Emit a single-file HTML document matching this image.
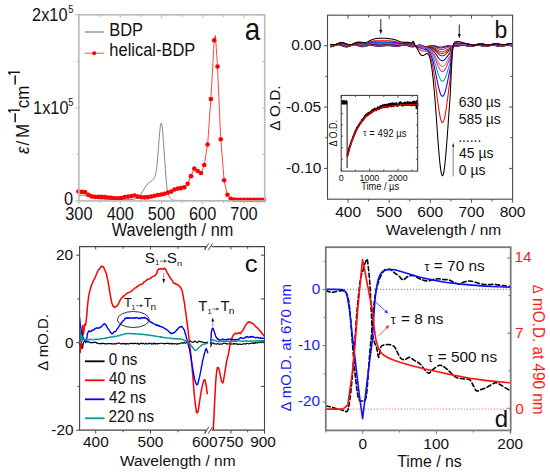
<!DOCTYPE html>
<html><head><meta charset="utf-8"><style>
html,body{margin:0;padding:0;background:#fff;}
svg{display:block;}
text{font-family:"Liberation Sans", sans-serif;}
</style></head><body>
<svg width="550" height="474" viewBox="0 0 550 474">
<rect x="0" y="0" width="550" height="474" fill="#fff"/>
<path d="M78.9 195.5 C79.75 195.47 82.48 195.17 84 195.3 C85.52 195.43 86.17 195.82 88 196.3 C89.83 196.78 92.17 197.72 95 198.2 C97.83 198.68 100.83 198.97 105 199.2 C109.17 199.43 115.5 199.57 120 199.6 C124.5 199.63 129.17 199.67 132 199.4 C134.83 199.13 135.67 198.63 137 198 C138.33 197.37 138.72 197.27 140 195.6 C141.28 193.93 143.28 190.12 144.7 188 C146.12 185.88 147.23 184.17 148.5 182.9 C149.77 181.63 151.18 181.6 152.3 180.4 C153.42 179.2 154.42 178.27 155.2 175.7 C155.98 173.13 156.53 168.8 157 165 C157.47 161.2 157.52 158.7 158 152.9 C158.48 147.1 159.37 135.18 159.9 130.2 C160.43 125.22 160.75 123 161.2 123 C161.65 123 162.03 124.27 162.6 130.2 C163.17 136.13 163.95 149.77 164.6 158.6 C165.25 167.43 165.87 177.2 166.5 183.2 C167.13 189.2 167.6 191.9 168.4 194.6 C169.2 197.3 170.37 198.47 171.3 199.4 C172.23 200.33 172.88 200.03 174 200.2 C175.12 200.37 175.33 200.35 178 200.4 C180.67 200.45 184.67 200.48 190 200.5 C195.33 200.52 203.33 200.5 210 200.5 C216.67 200.5 223.33 200.5 230 200.5 C236.67 200.5 244.22 200.5 250 200.5 C255.78 200.5 262.25 200.5 264.7 200.5" fill="none" stroke="#777" stroke-width="0.9" stroke-linejoin="round" stroke-linecap="round"/>
<path d="M78.4 191.5 L82.3 192 L85.6 192.2 L88.9 195.3 L92.1 196.6 L95.4 196.9 L98.7 196.9 L102 196.9 L105.2 197.1 L108.5 197.5 L111.8 197.7 L115.1 198.3 L118.3 198.3 L121.6 198 L124.9 196.9 L128.1 196.6 L131.4 196.1 L134.4 195.4 L137.7 196.6 L141 197.3 L144.3 197.4 L147.6 197.2 L151.1 196.5 L154.4 195.8 L157.6 195.1 L160.9 194.5 L164.2 193.8 L167.5 192.7 L171.3 191.6 L174.5 189.5 L177.8 188.6 L181.1 188.1 L184.7 187.3 L187.6 184 L190.9 176.4 L194.2 168.5 L197.7 171.1 L201.1 173.1 L204.3 164.9 L207.7 143.7 L211 97.4 L214.2 40.2 L215.4 35.4 L217.4 64.2 L220.6 136.5 L224.2 181.2 L227.8 196.2 L231.1 199 L234.4 199.7 L240 199.9 L264.5 199.9" fill="none" stroke="#ff3030" stroke-width="0.9" stroke-linejoin="round" stroke-linecap="round"/>
<circle cx="78.4" cy="191.5" r="2.3" fill="#ff0000"/>
<circle cx="81.71" cy="191.92" r="2.3" fill="#ff0000"/>
<circle cx="85.02" cy="192.17" r="2.3" fill="#ff0000"/>
<circle cx="88.34" cy="194.77" r="2.3" fill="#ff0000"/>
<circle cx="91.65" cy="196.42" r="2.3" fill="#ff0000"/>
<circle cx="94.96" cy="196.86" r="2.3" fill="#ff0000"/>
<circle cx="98.27" cy="196.9" r="2.3" fill="#ff0000"/>
<circle cx="101.58" cy="196.9" r="2.3" fill="#ff0000"/>
<circle cx="104.9" cy="197.08" r="2.3" fill="#ff0000"/>
<circle cx="108.21" cy="197.46" r="2.3" fill="#ff0000"/>
<circle cx="111.52" cy="197.68" r="2.3" fill="#ff0000"/>
<circle cx="114.83" cy="198.25" r="2.3" fill="#ff0000"/>
<circle cx="118.14" cy="198.3" r="2.3" fill="#ff0000"/>
<circle cx="121.46" cy="198.01" r="2.3" fill="#ff0000"/>
<circle cx="124.77" cy="196.94" r="2.3" fill="#ff0000"/>
<circle cx="128.08" cy="196.6" r="2.3" fill="#ff0000"/>
<circle cx="131.39" cy="196.1" r="2.3" fill="#ff0000"/>
<circle cx="134.7" cy="195.51" r="2.3" fill="#ff0000"/>
<circle cx="138.02" cy="196.67" r="2.3" fill="#ff0000"/>
<circle cx="141.33" cy="197.31" r="2.3" fill="#ff0000"/>
<circle cx="144.64" cy="197.38" r="2.3" fill="#ff0000"/>
<circle cx="147.95" cy="197.13" r="2.3" fill="#ff0000"/>
<circle cx="151.26" cy="196.47" r="2.3" fill="#ff0000"/>
<circle cx="154.58" cy="195.76" r="2.3" fill="#ff0000"/>
<circle cx="157.89" cy="195.05" r="2.3" fill="#ff0000"/>
<circle cx="161.2" cy="194.44" r="2.3" fill="#ff0000"/>
<circle cx="164.51" cy="193.7" r="2.3" fill="#ff0000"/>
<circle cx="167.82" cy="192.61" r="2.3" fill="#ff0000"/>
<circle cx="171.14" cy="191.65" r="2.3" fill="#ff0000"/>
<circle cx="174.45" cy="189.53" r="2.3" fill="#ff0000"/>
<circle cx="177.76" cy="188.61" r="2.3" fill="#ff0000"/>
<circle cx="181.07" cy="188.1" r="2.3" fill="#ff0000"/>
<circle cx="184.38" cy="187.37" r="2.3" fill="#ff0000"/>
<circle cx="187.7" cy="183.78" r="2.3" fill="#ff0000"/>
<circle cx="191.01" cy="176.14" r="2.3" fill="#ff0000"/>
<circle cx="194.32" cy="168.59" r="2.3" fill="#ff0000"/>
<circle cx="197.63" cy="171.05" r="2.3" fill="#ff0000"/>
<circle cx="200.94" cy="173.01" r="2.3" fill="#ff0000"/>
<circle cx="204.26" cy="165.01" r="2.3" fill="#ff0000"/>
<circle cx="207.57" cy="144.52" r="2.3" fill="#ff0000"/>
<circle cx="210.88" cy="99.08" r="2.3" fill="#ff0000"/>
<circle cx="214.19" cy="40.34" r="2.3" fill="#ff0000"/>
<circle cx="217.5" cy="66.55" r="2.3" fill="#ff0000"/>
<circle cx="220.82" cy="139.18" r="2.3" fill="#ff0000"/>
<circle cx="224.13" cy="180.31" r="2.3" fill="#ff0000"/>
<circle cx="227.44" cy="194.7" r="2.3" fill="#ff0000"/>
<circle cx="230.75" cy="198.7" r="2.3" fill="#ff0000"/>
<circle cx="234.06" cy="199.63" r="2.3" fill="#ff0000"/>
<circle cx="237.38" cy="199.81" r="2.3" fill="#ff0000"/>
<circle cx="240.69" cy="199.9" r="2.3" fill="#ff0000"/>
<circle cx="244" cy="199.9" r="2.3" fill="#ff0000"/>
<circle cx="247.31" cy="199.9" r="2.3" fill="#ff0000"/>
<circle cx="250.62" cy="199.9" r="2.3" fill="#ff0000"/>
<circle cx="253.94" cy="199.9" r="2.3" fill="#ff0000"/>
<circle cx="257.25" cy="199.9" r="2.3" fill="#ff0000"/>
<circle cx="260.56" cy="199.9" r="2.3" fill="#ff0000"/>
<circle cx="263.87" cy="199.9" r="2.3" fill="#ff0000"/>
<rect x="78.9" y="14.8" width="185.8" height="186.1" fill="none" stroke="#bababa" stroke-width="1.6"/>
<line x1="78.9" y1="200.9" x2="78.9" y2="204.1" stroke="#bababa" stroke-width="1"/>
<line x1="78.9" y1="14.8" x2="78.9" y2="18" stroke="#bababa" stroke-width="1"/>
<line x1="99.54" y1="200.9" x2="99.54" y2="203.1" stroke="#bababa" stroke-width="1"/>
<line x1="99.54" y1="14.8" x2="99.54" y2="17" stroke="#bababa" stroke-width="1"/>
<line x1="120.19" y1="200.9" x2="120.19" y2="204.1" stroke="#bababa" stroke-width="1"/>
<line x1="120.19" y1="14.8" x2="120.19" y2="18" stroke="#bababa" stroke-width="1"/>
<line x1="140.83" y1="200.9" x2="140.83" y2="203.1" stroke="#bababa" stroke-width="1"/>
<line x1="140.83" y1="14.8" x2="140.83" y2="17" stroke="#bababa" stroke-width="1"/>
<line x1="161.48" y1="200.9" x2="161.48" y2="204.1" stroke="#bababa" stroke-width="1"/>
<line x1="161.48" y1="14.8" x2="161.48" y2="18" stroke="#bababa" stroke-width="1"/>
<line x1="182.12" y1="200.9" x2="182.12" y2="203.1" stroke="#bababa" stroke-width="1"/>
<line x1="182.12" y1="14.8" x2="182.12" y2="17" stroke="#bababa" stroke-width="1"/>
<line x1="202.77" y1="200.9" x2="202.77" y2="204.1" stroke="#bababa" stroke-width="1"/>
<line x1="202.77" y1="14.8" x2="202.77" y2="18" stroke="#bababa" stroke-width="1"/>
<line x1="223.41" y1="200.9" x2="223.41" y2="203.1" stroke="#bababa" stroke-width="1"/>
<line x1="223.41" y1="14.8" x2="223.41" y2="17" stroke="#bababa" stroke-width="1"/>
<line x1="244.06" y1="200.9" x2="244.06" y2="204.1" stroke="#bababa" stroke-width="1"/>
<line x1="244.06" y1="14.8" x2="244.06" y2="18" stroke="#bababa" stroke-width="1"/>
<line x1="264.7" y1="200.9" x2="264.7" y2="203.1" stroke="#bababa" stroke-width="1"/>
<line x1="264.7" y1="14.8" x2="264.7" y2="17" stroke="#bababa" stroke-width="1"/>
<line x1="75.4" y1="200.9" x2="78.9" y2="200.9" stroke="#bababa" stroke-width="1"/>
<line x1="264.7" y1="200.9" x2="262.2" y2="200.9" stroke="#bababa" stroke-width="1"/>
<line x1="76.7" y1="154.4" x2="78.9" y2="154.4" stroke="#bababa" stroke-width="1"/>
<line x1="264.7" y1="154.4" x2="262.2" y2="154.4" stroke="#bababa" stroke-width="1"/>
<line x1="75.4" y1="107.9" x2="78.9" y2="107.9" stroke="#bababa" stroke-width="1"/>
<line x1="264.7" y1="107.9" x2="262.2" y2="107.9" stroke="#bababa" stroke-width="1"/>
<line x1="76.7" y1="61.4" x2="78.9" y2="61.4" stroke="#bababa" stroke-width="1"/>
<line x1="264.7" y1="61.4" x2="262.2" y2="61.4" stroke="#bababa" stroke-width="1"/>
<line x1="75.4" y1="14.9" x2="78.9" y2="14.9" stroke="#bababa" stroke-width="1"/>
<line x1="264.7" y1="14.9" x2="262.2" y2="14.9" stroke="#bababa" stroke-width="1"/>
<text transform="translate(65.27 219.9) scale(1 1.12)" font-size="16.35" fill="#111">300</text>
<text transform="translate(106.68 219.9) scale(1 1.12)" font-size="16.35" fill="#111">400</text>
<text transform="translate(147.83 219.9) scale(1 1.12)" font-size="16.35" fill="#111">500</text>
<text transform="translate(189.03 219.9) scale(1 1.12)" font-size="16.35" fill="#111">600</text>
<text transform="translate(230.32 219.9) scale(1 1.12)" font-size="16.35" fill="#111">700</text>
<text transform="translate(63.96 205.1) scale(1 1.12)" font-size="16.35" fill="#111">0</text>
<text transform="translate(33.05 114.3) scale(1 1.12)" font-size="16.35" fill="#111">1x10</text>
<text transform="translate(68.23 105.6) scale(1 1.12)" font-size="9.2" fill="#111">5</text>
<text transform="translate(32.08 21.1) scale(1 1.12)" font-size="16.35" fill="#111">2x10</text>
<text transform="translate(68.23 12.9) scale(1 1.12)" font-size="9.2" fill="#111">5</text>
<text transform="translate(111.63 236.3) scale(1 1.12)" font-size="16.3" fill="#111">Wavelength / nm</text>
<line x1="84.8" y1="32" x2="104" y2="32" stroke="#888" stroke-width="1.3"/>
<text transform="translate(109.15 35.7) scale(1 1.12)" font-size="16.5" fill="#111">BDP</text>
<line x1="84.8" y1="53.2" x2="104" y2="53.2" stroke="#ff4040" stroke-width="0.9"/>
<circle cx="94.2" cy="53.2" r="2" fill="#ff0000"/>
<text transform="translate(109.36 56) scale(1 1.12)" font-size="16.45" fill="#111">helical-BDP</text>
<text transform="translate(244.82 39.6) scale(1 1.11)" font-size="27.8" fill="#111">a</text>
<g transform="translate(28.9 153.6) rotate(-90) scale(1 1.1)" fill="#111"><text x="-0.5" y="0" font-size="17" font-style="italic" font-family="Liberation Serif, serif">&#949;</text><text x="8.0" y="0" font-size="17">/</text><text x="15.5" y="0" font-size="17">M</text><text x="45.3" y="0" font-size="17">cm</text><line x1="31.3" y1="-12.5" x2="40.3" y2="-12.5" stroke="#111" stroke-width="1.35"/><line x1="43.4" y1="-8.2" x2="43.4" y2="-18.9" stroke="#111" stroke-width="1.45"/><line x1="43.1" y1="-18.6" x2="41.2" y2="-16.6" stroke="#111" stroke-width="1.1"/><line x1="69.1" y1="-12.5" x2="78.1" y2="-12.5" stroke="#111" stroke-width="1.35"/><line x1="81.3" y1="-8.2" x2="81.3" y2="-18.9" stroke="#111" stroke-width="1.45"/><line x1="81" y1="-18.6" x2="79.1" y2="-16.6" stroke="#111" stroke-width="1.1"/></g>
<path d="M330.8 46.92 L331.3 46.82 L331.8 46.69 L332.3 46.54 L332.8 46.37 L333.3 46.18 L333.8 45.98 L334.3 45.78 L334.8 45.59 L335.3 45.41 L335.8 45.25 L336.3 45.11 L336.8 45.01 L337.3 44.94 L337.8 44.9 L338.3 44.91 L338.8 44.95 L339.3 45.03 L339.8 45.14 L340.3 45.28 L340.8 45.45 L341.3 45.63 L341.8 45.82 L342.3 46.02 L342.8 46.22 L343.3 46.4 L343.8 46.57 L344.3 46.72 L344.8 46.84 L345.3 46.92 L345.8 46.98 L346.3 46.99 L346.8 46.96 L347.3 46.9 L347.8 46.81 L348.3 46.68 L348.8 46.53 L349.3 46.36 L349.8 46.17 L350.3 45.98 L350.8 45.78 L351.3 45.6 L351.8 45.42 L352.3 45.27 L352.8 45.14 L353.3 45.05 L353.8 44.98 L354.3 44.96 L354.8 44.97 L355.3 45.01 L355.8 45.09 L356.3 45.2 L356.8 45.33 L357.3 45.49 L357.8 45.66 L358.3 45.83 L358.8 46.01 L359.3 46.18 L359.8 46.34 L360.3 46.49 L360.8 46.61 L361.3 46.7 L361.8 46.76 L362.3 46.79 L362.8 46.79 L363.3 46.75 L363.8 46.69 L364.3 46.61 L364.8 46.5 L365.3 46.37 L365.8 46.24 L366.3 46.1 L366.8 45.96 L367.3 45.83 L367.8 45.7 L368.3 45.6 L368.8 45.51 L369.3 45.44 L369.8 45.4 L370.3 45.38 L370.8 45.38 L371.3 45.4 L371.8 45.44 L372.3 45.5 L372.8 45.57 L373.3 45.64 L373.8 45.72 L374.3 45.81 L374.8 45.88 L375.3 45.96 L375.8 46.02 L376.3 46.08 L376.8 46.12 L377.3 46.15 L377.8 46.17 L378.3 46.18 L378.8 46.18 L379.3 46.17 L379.8 46.15 L380.3 46.12 L380.8 46.1 L381.3 46.06 L381.8 46.03 L382.3 46 L382.8 45.96 L383.3 45.93 L383.8 45.9 L384.3 45.87 L384.8 45.85 L385.3 45.82 L385.8 45.8 L386.3 45.78 L386.8 45.77 L387.3 45.76 L387.8 45.75 L388.3 45.75 L388.8 45.76 L389.3 45.77 L389.8 45.79 L390.3 45.82 L390.8 45.86 L391.3 45.9 L391.8 45.95 L392.3 46.01 L392.8 46.07 L393.3 46.13 L393.8 46.19 L394.3 46.24 L394.8 46.29 L395.3 46.33 L395.8 46.35 L396.3 46.36 L396.8 46.36 L397.3 46.33 L397.8 46.29 L398.3 46.23 L398.8 46.15 L399.3 46.06 L399.8 45.95 L400.3 45.84 L400.8 45.72 L401.3 45.61 L401.8 45.5 L402.3 45.4 L402.8 45.31 L403.3 45.25 L403.8 45.21 L404.3 45.2 L404.8 45.21 L405.3 45.26 L405.8 45.33 L406.3 45.43 L406.8 45.55 L407.3 45.69 L407.8 45.84 L408.3 46.01 L408.8 46.17 L409.3 46.34 L409.8 46.49 L410.3 46.62 L410.8 46.74 L411.3 46.82 L411.8 46.88 L412.3 46.89 L412.8 46.88 L413.3 46.83 L413.8 46.75 L414.3 46.64 L414.8 46.51 L415.3 46.35 L415.8 46.17 L416.3 45.99 L416.8 45.8 L417.3 45.62 L417.8 45.45 L418.3 45.3 L418.8 45.17 L419.3 45.07 L419.8 45 L420.3 45.7 L420.8 45.81 L421.3 45.94 L421.8 46.07 L422.3 46.19 L422.8 46.31 L423.3 46.41 L423.8 46.5 L424.3 46.56 L424.8 46.6 L425.3 46.62 L425.8 46.61 L426.3 46.57 L426.8 46.51 L427.3 46.43 L427.8 46.34 L428.3 46.23 L428.8 46.12 L429.3 46 L429.8 45.89 L430.3 45.79 L430.8 45.7 L431.3 45.63 L431.8 45.58 L432.3 45.56 L432.8 45.57 L433.3 45.6 L433.8 45.66 L434.3 45.74 L434.8 45.85 L435.3 45.97 L435.8 46.11 L436.3 46.25 L436.8 46.4 L437.3 46.54 L437.8 46.68 L438.3 46.8 L438.8 46.9 L439.3 46.98 L439.8 47.03 L440.3 47.05 L440.8 47.05 L441.3 47.02 L441.8 46.96 L442.3 46.88 L442.8 46.78 L443.3 46.66 L443.8 46.53 L444.3 46.4 L444.8 46.27 L445.3 46.14 L445.8 46.02 L446.3 45.92 L446.8 45.84 L447.3 45.78 L447.8 45.75 L448.3 45.74 L448.8 45.76 L449.3 45.8 L449.8 45.86 L450.3 45.93 L450.8 46 L451.3 46.06 L451.8 46.14 L452.3 46.21 L452.8 46.29 L453.3 46.37 L453.8 46.44 L454.3 46.5 L454.8 46.53 L455.3 46.54 L455.8 46.53 L456.3 46.49 L456.8 46.43 L457.3 46.34 L457.8 46.24 L458.3 46.13 L458.8 46.01 L459.3 45.88 L459.8 45.76 L460.3 45.64 L460.8 45.54 L461.3 45.46 L461.8 45.4 L462.3 45.36 L462.8 45.35 L463.3 45.36 L463.8 45.4 L464.3 45.46 L464.8 45.55 L465.3 45.65 L465.8 45.76 L466.3 45.89 L466.8 46.01 L467.3 46.14 L467.8 46.25 L468.3 46.35 L468.8 46.44 L469.3 46.5 L469.8 46.54 L470.3 46.55 L470.8 46.54 L471.3 46.5 L471.8 46.44 L472.3 46.36 L472.8 46.26 L473.3 46.14 L473.8 46.02 L474.3 45.89 L474.8 45.77 L475.3 45.66 L475.8 45.55 L476.3 45.47 L476.8 45.41 L477.3 45.37 L477.8 45.35 L478.3 45.37 L478.8 45.4 L479.3 45.47 L479.8 45.55 L480.3 45.65 L480.8 45.77 L481.3 45.89 L481.8 46.01 L482.3 46.14 L482.8 46.25 L483.3 46.35 L483.8 46.44 L484.3 46.5 L484.8 46.54 L485.3 46.55 L485.8 46.54 L486.3 46.5 L486.8 46.44 L487.3 46.36 L487.8 46.26 L488.3 46.14 L488.8 46.02 L489.3 45.89 L489.8 45.77 L490.3 45.66 L490.8 45.55 L491.3 45.47 L491.8 45.41 L492.3 45.37 L492.8 45.35 L493.3 45.37 L493.8 45.4 L494.3 45.47 L494.8 45.55 L495.3 45.65 L495.8 45.76 L496.3 45.89 L496.8 46.01 L497.3 46.14 L497.8 46.25 L498.3 46.35 L498.8 46.44 L499.3 46.5 L499.8 46.54 L500.3 46.55 L500.8 46.54 L501.3 46.5 L501.8 46.44 L502.3 46.36 L502.8 46.25 L503.3 46.14 L503.8 46.02 L504.3 45.89 L504.8 45.77 L505.3 45.65 L505.8 45.55 L506.3 45.47 L506.8 45.4 L507.3 45.37 L507.8 45.35 L508.3 45.36 L508.8 45.4 L509.3 45.46 L509.8 45.55 L510.3 45.65 L510.8 45.76 L511.3 45.89 L511.8 46.01 L512.3 46.13" fill="none" stroke="#202020" stroke-width="1.05" stroke-linejoin="round" stroke-linecap="round"/>
<path d="M330.8 46.77 L331.3 46.69 L331.8 46.59 L332.3 46.45 L332.8 46.29 L333.3 46.1 L333.8 45.91 L334.3 45.71 L334.8 45.51 L335.3 45.33 L335.8 45.15 L336.3 45 L336.8 44.88 L337.3 44.79 L337.8 44.73 L338.3 44.71 L338.8 44.73 L339.3 44.78 L339.8 44.87 L340.3 45 L340.8 45.15 L341.3 45.32 L341.8 45.51 L342.3 45.7 L342.8 45.9 L343.3 46.1 L343.8 46.28 L344.3 46.44 L344.8 46.58 L345.3 46.68 L345.8 46.76 L346.3 46.79 L346.8 46.79 L347.3 46.75 L347.8 46.68 L348.3 46.57 L348.8 46.44 L349.3 46.27 L349.8 46.1 L350.3 45.91 L350.8 45.71 L351.3 45.52 L351.8 45.34 L352.3 45.17 L352.8 45.03 L353.3 44.91 L353.8 44.83 L354.3 44.78 L354.8 44.76 L355.3 44.79 L355.8 44.84 L356.3 44.93 L356.8 45.05 L357.3 45.19 L357.8 45.35 L358.3 45.53 L358.8 45.7 L359.3 45.88 L359.8 46.04 L360.3 46.2 L360.8 46.33 L361.3 46.44 L361.8 46.52 L362.3 46.56 L362.8 46.58 L363.3 46.57 L363.8 46.52 L364.3 46.45 L364.8 46.35 L365.3 46.24 L365.8 46.11 L366.3 45.97 L366.8 45.83 L367.3 45.7 L367.8 45.57 L368.3 45.45 L368.8 45.35 L369.3 45.28 L369.8 45.22 L370.3 45.18 L370.8 45.17 L371.3 45.18 L371.8 45.2 L372.3 45.25 L372.8 45.31 L373.3 45.38 L373.8 45.45 L374.3 45.53 L374.8 45.61 L375.3 45.68 L375.8 45.75 L376.3 45.81 L376.8 45.85 L377.3 45.89 L377.8 45.92 L378.3 45.93 L378.8 45.93 L379.3 45.93 L379.8 45.92 L380.3 45.9 L380.8 45.87 L381.3 45.84 L381.8 45.81 L382.3 45.78 L382.8 45.74 L383.3 45.71 L383.8 45.68 L384.3 45.65 L384.8 45.62 L385.3 45.6 L385.8 45.58 L386.3 45.56 L386.8 45.54 L387.3 45.53 L387.8 45.52 L388.3 45.51 L388.8 45.52 L389.3 45.53 L389.8 45.54 L390.3 45.57 L390.8 45.6 L391.3 45.64 L391.8 45.69 L392.3 45.75 L392.8 45.8 L393.3 45.87 L393.8 45.93 L394.3 45.99 L394.8 46.05 L395.3 46.09 L395.8 46.13 L396.3 46.15 L396.8 46.15 L397.3 46.14 L397.8 46.11 L398.3 46.06 L398.8 45.99 L399.3 45.91 L399.8 45.81 L400.3 45.7 L400.8 45.58 L401.3 45.47 L401.8 45.35 L402.3 45.24 L402.8 45.15 L403.3 45.07 L403.8 45.02 L404.3 44.99 L404.8 44.99 L405.3 45.02 L405.8 45.07 L406.3 45.16 L406.8 45.27 L407.3 45.4 L407.8 45.55 L408.3 45.71 L408.8 45.88 L409.3 46.04 L409.8 46.2 L410.3 46.35 L410.8 46.48 L411.3 46.58 L411.8 46.65 L412.3 46.68 L412.8 46.68 L413.3 46.65 L413.8 46.6 L414.3 46.52 L414.8 46.41 L415.3 46.27 L415.8 46.11 L416.3 45.94 L416.8 45.76 L417.3 45.58 L417.8 45.41 L418.3 45.26 L418.8 45.13 L419.3 45.02 L419.8 44.94 L420.3 45.54 L420.8 45.66 L421.3 45.79 L421.8 45.93 L422.3 46.06 L422.8 46.18 L423.3 46.29 L423.8 46.39 L424.3 46.47 L424.8 46.53 L425.3 46.56 L425.8 46.57 L426.3 46.56 L426.8 46.52 L427.3 46.46 L427.8 46.39 L428.3 46.3 L428.8 46.21 L429.3 46.11 L429.8 46.02 L430.3 45.94 L430.8 45.88 L431.3 45.83 L431.8 45.81 L432.3 45.81 L432.8 45.84 L433.3 45.9 L433.8 45.99 L434.3 46.1 L434.8 46.24 L435.3 46.4 L435.8 46.58 L436.3 46.77 L436.8 46.96 L437.3 47.15 L437.8 47.33 L438.3 47.5 L438.8 47.65 L439.3 47.77 L439.8 47.87 L440.3 47.93 L440.8 47.96 L441.3 47.96 L441.8 47.92 L442.3 47.86 L442.8 47.76 L443.3 47.65 L443.8 47.51 L444.3 47.36 L444.8 47.2 L445.3 47.04 L445.8 46.89 L446.3 46.75 L446.8 46.61 L447.3 46.5 L447.8 46.41 L448.3 46.34 L448.8 46.3 L449.3 46.28 L449.8 46.28 L450.3 46.28 L450.8 46.24 L451.3 46.18 L451.8 46.14 L452.3 46.12 L452.8 46.13 L453.3 46.17 L453.8 46.22 L454.3 46.27 L454.8 46.31 L455.3 46.33 L455.8 46.33 L456.3 46.3 L456.8 46.25 L457.3 46.18 L457.8 46.09 L458.3 45.98 L458.8 45.86 L459.3 45.74 L459.8 45.62 L460.3 45.5 L460.8 45.39 L461.3 45.3 L461.8 45.23 L462.3 45.18 L462.8 45.15 L463.3 45.15 L463.8 45.18 L464.3 45.23 L464.8 45.3 L465.3 45.4 L465.8 45.51 L466.3 45.63 L466.8 45.75 L467.3 45.88 L467.8 46 L468.3 46.11 L468.8 46.21 L469.3 46.28 L469.8 46.34 L470.3 46.36 L470.8 46.37 L471.3 46.34 L471.8 46.3 L472.3 46.22 L472.8 46.13 L473.3 46.02 L473.8 45.91 L474.3 45.78 L474.8 45.66 L475.3 45.54 L475.8 45.43 L476.3 45.33 L476.8 45.26 L477.3 45.2 L477.8 45.17 L478.3 45.17 L478.8 45.2 L479.3 45.24 L479.8 45.32 L480.3 45.41 L480.8 45.51 L481.3 45.63 L481.8 45.76 L482.3 45.88 L482.8 46 L483.3 46.11 L483.8 46.21 L484.3 46.28 L484.8 46.34 L485.3 46.36 L485.8 46.37 L486.3 46.34 L486.8 46.29 L487.3 46.22 L487.8 46.13 L488.3 46.02 L488.8 45.91 L489.3 45.78 L489.8 45.66 L490.3 45.54 L490.8 45.43 L491.3 45.33 L491.8 45.25 L492.3 45.2 L492.8 45.17 L493.3 45.17 L493.8 45.19 L494.3 45.24 L494.8 45.31 L495.3 45.4 L495.8 45.51 L496.3 45.63 L496.8 45.75 L497.3 45.88 L497.8 46 L498.3 46.11 L498.8 46.2 L499.3 46.28 L499.8 46.33 L500.3 46.36 L500.8 46.36 L501.3 46.34 L501.8 46.29 L502.3 46.22 L502.8 46.13 L503.3 46.02 L503.8 45.9 L504.3 45.78 L504.8 45.65 L505.3 45.53 L505.8 45.42 L506.3 45.33 L506.8 45.25 L507.3 45.2 L507.8 45.17 L508.3 45.17 L508.8 45.19 L509.3 45.24 L509.8 45.31 L510.3 45.4 L510.8 45.51 L511.3 45.63 L511.8 45.75 L512.3 45.88" fill="none" stroke="#6000a0" stroke-width="1.05" stroke-linejoin="round" stroke-linecap="round"/>
<path d="M330.8 46.6 L331.3 46.55 L331.8 46.47 L332.3 46.35 L332.8 46.2 L333.3 46.03 L333.8 45.84 L334.3 45.65 L334.8 45.45 L335.3 45.25 L335.8 45.07 L336.3 44.9 L336.8 44.76 L337.3 44.65 L337.8 44.57 L338.3 44.53 L338.8 44.52 L339.3 44.55 L339.8 44.62 L340.3 44.73 L340.8 44.86 L341.3 45.02 L341.8 45.2 L342.3 45.39 L342.8 45.59 L343.3 45.78 L343.8 45.97 L344.3 46.15 L344.8 46.3 L345.3 46.43 L345.8 46.52 L346.3 46.58 L346.8 46.6 L347.3 46.59 L347.8 46.54 L348.3 46.45 L348.8 46.33 L349.3 46.18 L349.8 46.02 L350.3 45.83 L350.8 45.64 L351.3 45.45 L351.8 45.26 L352.3 45.08 L352.8 44.92 L353.3 44.79 L353.8 44.68 L354.3 44.61 L354.8 44.58 L355.3 44.58 L355.8 44.61 L356.3 44.68 L356.8 44.78 L357.3 44.91 L357.8 45.05 L358.3 45.22 L358.8 45.39 L359.3 45.57 L359.8 45.74 L360.3 45.9 L360.8 46.04 L361.3 46.16 L361.8 46.25 L362.3 46.32 L362.8 46.36 L363.3 46.36 L363.8 46.33 L364.3 46.27 L364.8 46.19 L365.3 46.09 L365.8 45.97 L366.3 45.84 L366.8 45.7 L367.3 45.56 L367.8 45.42 L368.3 45.3 L368.8 45.19 L369.3 45.1 L369.8 45.03 L370.3 44.98 L370.8 44.95 L371.3 44.94 L371.8 44.96 L372.3 44.99 L372.8 45.04 L373.3 45.1 L373.8 45.16 L374.3 45.24 L374.8 45.31 L375.3 45.38 L375.8 45.45 L376.3 45.51 L376.8 45.56 L377.3 45.6 L377.8 45.63 L378.3 45.65 L378.8 45.66 L379.3 45.66 L379.8 45.65 L380.3 45.63 L380.8 45.61 L381.3 45.59 L381.8 45.56 L382.3 45.53 L382.8 45.5 L383.3 45.46 L383.8 45.43 L384.3 45.4 L384.8 45.38 L385.3 45.35 L385.8 45.33 L386.3 45.3 L386.8 45.29 L387.3 45.27 L387.8 45.26 L388.3 45.25 L388.8 45.25 L389.3 45.26 L389.8 45.27 L390.3 45.29 L390.8 45.32 L391.3 45.36 L391.8 45.41 L392.3 45.46 L392.8 45.52 L393.3 45.59 L393.8 45.65 L394.3 45.72 L394.8 45.78 L395.3 45.83 L395.8 45.88 L396.3 45.91 L396.8 45.93 L397.3 45.93 L397.8 45.91 L398.3 45.87 L398.8 45.81 L399.3 45.74 L399.8 45.65 L400.3 45.55 L400.8 45.43 L401.3 45.32 L401.8 45.2 L402.3 45.09 L402.8 44.99 L403.3 44.9 L403.8 44.83 L404.3 44.79 L404.8 44.77 L405.3 44.78 L405.8 44.82 L406.3 44.89 L406.8 44.99 L407.3 45.11 L407.8 45.25 L408.3 45.41 L408.8 45.57 L409.3 45.74 L409.8 45.91 L410.3 46.07 L410.8 46.21 L411.3 46.33 L411.8 46.41 L412.3 46.45 L412.8 46.46 L413.3 46.44 L413.8 46.42 L414.3 46.38 L414.8 46.31 L415.3 46.2 L415.8 46.06 L416.3 45.9 L416.8 45.74 L417.3 45.57 L417.8 45.41 L418.3 45.26 L418.8 45.13 L419.3 45.03 L419.8 44.95 L420.3 45.46 L420.8 45.58 L421.3 45.72 L421.8 45.85 L422.3 45.99 L422.8 46.12 L423.3 46.25 L423.8 46.36 L424.3 46.45 L424.8 46.53 L425.3 46.58 L425.8 46.61 L426.3 46.62 L426.8 46.6 L427.3 46.57 L427.8 46.53 L428.3 46.48 L428.8 46.42 L429.3 46.36 L429.8 46.3 L430.3 46.26 L430.8 46.24 L431.3 46.23 L431.8 46.25 L432.3 46.3 L432.8 46.38 L433.3 46.5 L433.8 46.64 L434.3 46.81 L434.8 47.01 L435.3 47.24 L435.8 47.48 L436.3 47.74 L436.8 48 L437.3 48.26 L437.8 48.51 L438.3 48.75 L438.8 48.97 L439.3 49.15 L439.8 49.31 L440.3 49.43 L440.8 49.5 L441.3 49.54 L441.8 49.53 L442.3 49.49 L442.8 49.4 L443.3 49.28 L443.8 49.13 L444.3 48.96 L444.8 48.76 L445.3 48.56 L445.8 48.35 L446.3 48.14 L446.8 47.94 L447.3 47.75 L447.8 47.57 L448.3 47.42 L448.8 47.29 L449.3 47.18 L449.8 47.09 L450.3 46.98 L450.8 46.77 L451.3 46.52 L451.8 46.29 L452.3 46.12 L452.8 46.02 L453.3 45.99 L453.8 46 L454.3 46.04 L454.8 46.08 L455.3 46.1 L455.8 46.11 L456.3 46.1 L456.8 46.06 L457.3 46 L457.8 45.92 L458.3 45.82 L458.8 45.71 L459.3 45.59 L459.8 45.46 L460.3 45.34 L460.8 45.23 L461.3 45.14 L461.8 45.06 L462.3 45 L462.8 44.96 L463.3 44.95 L463.8 44.96 L464.3 45.01 L464.8 45.07 L465.3 45.16 L465.8 45.26 L466.3 45.38 L466.8 45.5 L467.3 45.63 L467.8 45.75 L468.3 45.87 L468.8 45.97 L469.3 46.06 L469.8 46.13 L470.3 46.17 L470.8 46.19 L471.3 46.18 L471.8 46.15 L472.3 46.09 L472.8 46.01 L473.3 45.91 L473.8 45.8 L474.3 45.67 L474.8 45.55 L475.3 45.43 L475.8 45.31 L476.3 45.2 L476.8 45.12 L477.3 45.05 L477.8 45.01 L478.3 44.99 L478.8 45 L479.3 45.03 L479.8 45.09 L480.3 45.17 L480.8 45.27 L481.3 45.38 L481.8 45.51 L482.3 45.63 L482.8 45.75 L483.3 45.87 L483.8 45.98 L484.3 46.06 L484.8 46.13 L485.3 46.17 L485.8 46.19 L486.3 46.18 L486.8 46.15 L487.3 46.09 L487.8 46.01 L488.3 45.91 L488.8 45.79 L489.3 45.67 L489.8 45.55 L490.3 45.42 L490.8 45.31 L491.3 45.2 L491.8 45.11 L492.3 45.05 L492.8 45 L493.3 44.99 L493.8 44.99 L494.3 45.03 L494.8 45.09 L495.3 45.17 L495.8 45.27 L496.3 45.38 L496.8 45.5 L497.3 45.62 L497.8 45.75 L498.3 45.86 L498.8 45.97 L499.3 46.05 L499.8 46.12 L500.3 46.16 L500.8 46.18 L501.3 46.17 L501.8 46.14 L502.3 46.08 L502.8 46 L503.3 45.9 L503.8 45.79 L504.3 45.66 L504.8 45.54 L505.3 45.41 L505.8 45.3 L506.3 45.19 L506.8 45.11 L507.3 45.04 L507.8 45 L508.3 44.98 L508.8 44.99 L509.3 45.02 L509.8 45.08 L510.3 45.16 L510.8 45.26 L511.3 45.37 L511.8 45.49 L512.3 45.62" fill="none" stroke="#e000e0" stroke-width="1.05" stroke-linejoin="round" stroke-linecap="round"/>
<path d="M330.8 46.42 L331.3 46.4 L331.8 46.33 L332.3 46.23 L332.8 46.1 L333.3 45.95 L333.8 45.77 L334.3 45.58 L334.8 45.38 L335.3 45.18 L335.8 44.99 L336.3 44.81 L336.8 44.65 L337.3 44.52 L337.8 44.42 L338.3 44.36 L338.8 44.33 L339.3 44.34 L339.8 44.38 L340.3 44.46 L340.8 44.58 L341.3 44.72 L341.8 44.89 L342.3 45.07 L342.8 45.27 L343.3 45.47 L343.8 45.66 L344.3 45.85 L344.8 46.01 L345.3 46.16 L345.8 46.27 L346.3 46.35 L346.8 46.4 L347.3 46.41 L347.8 46.38 L348.3 46.31 L348.8 46.22 L349.3 46.09 L349.8 45.93 L350.3 45.76 L350.8 45.57 L351.3 45.37 L351.8 45.18 L352.3 45 L352.8 44.83 L353.3 44.68 L353.8 44.55 L354.3 44.46 L354.8 44.4 L355.3 44.38 L355.8 44.39 L356.3 44.44 L356.8 44.52 L357.3 44.63 L357.8 44.76 L358.3 44.91 L358.8 45.08 L359.3 45.25 L359.8 45.42 L360.3 45.59 L360.8 45.74 L361.3 45.87 L361.8 45.98 L362.3 46.06 L362.8 46.11 L363.3 46.13 L363.8 46.12 L364.3 46.08 L364.8 46.01 L365.3 45.92 L365.8 45.81 L366.3 45.68 L366.8 45.55 L367.3 45.41 L367.8 45.27 L368.3 45.14 L368.8 45.02 L369.3 44.92 L369.8 44.83 L370.3 44.76 L370.8 44.72 L371.3 44.7 L371.8 44.7 L372.3 44.72 L372.8 44.75 L373.3 44.8 L373.8 44.86 L374.3 44.93 L374.8 45 L375.3 45.07 L375.8 45.13 L376.3 45.19 L376.8 45.25 L377.3 45.29 L377.8 45.32 L378.3 45.35 L378.8 45.36 L379.3 45.36 L379.8 45.36 L380.3 45.35 L380.8 45.33 L381.3 45.31 L381.8 45.28 L382.3 45.25 L382.8 45.22 L383.3 45.19 L383.8 45.16 L384.3 45.13 L384.8 45.1 L385.3 45.08 L385.8 45.05 L386.3 45.03 L386.8 45.01 L387.3 44.99 L387.8 44.98 L388.3 44.97 L388.8 44.97 L389.3 44.97 L389.8 44.98 L390.3 45 L390.8 45.03 L391.3 45.06 L391.8 45.11 L392.3 45.16 L392.8 45.22 L393.3 45.28 L393.8 45.35 L394.3 45.42 L394.8 45.49 L395.3 45.55 L395.8 45.61 L396.3 45.65 L396.8 45.68 L397.3 45.69 L397.8 45.69 L398.3 45.66 L398.8 45.62 L399.3 45.56 L399.8 45.48 L400.3 45.38 L400.8 45.27 L401.3 45.16 L401.8 45.04 L402.3 44.93 L402.8 44.82 L403.3 44.73 L403.8 44.65 L404.3 44.59 L404.8 44.56 L405.3 44.55 L405.8 44.58 L406.3 44.63 L406.8 44.71 L407.3 44.82 L407.8 44.95 L408.3 45.1 L408.8 45.27 L409.3 45.44 L409.8 45.61 L410.3 45.78 L410.8 45.93 L411.3 46.06 L411.8 46.15 L412.3 46.2 L412.8 46.21 L413.3 46.21 L413.8 46.22 L414.3 46.22 L414.8 46.19 L415.3 46.12 L415.8 46.01 L416.3 45.88 L416.8 45.73 L417.3 45.59 L417.8 45.44 L418.3 45.31 L418.8 45.19 L419.3 45.09 L419.8 45.01 L420.3 45.43 L420.8 45.56 L421.3 45.7 L421.8 45.85 L422.3 45.99 L422.8 46.13 L423.3 46.26 L423.8 46.38 L424.3 46.49 L424.8 46.58 L425.3 46.65 L425.8 46.7 L426.3 46.74 L426.8 46.75 L427.3 46.76 L427.8 46.75 L428.3 46.73 L428.8 46.72 L429.3 46.71 L429.8 46.7 L430.3 46.71 L430.8 46.74 L431.3 46.8 L431.8 46.89 L432.3 47 L432.8 47.16 L433.3 47.34 L433.8 47.57 L434.3 47.82 L434.8 48.11 L435.3 48.43 L435.8 48.76 L436.3 49.11 L436.8 49.46 L437.3 49.82 L437.8 50.16 L438.3 50.49 L438.8 50.79 L439.3 51.06 L439.8 51.29 L440.3 51.48 L440.8 51.61 L441.3 51.7 L441.8 51.72 L442.3 51.7 L442.8 51.62 L443.3 51.5 L443.8 51.33 L444.3 51.12 L444.8 50.88 L445.3 50.62 L445.8 50.34 L446.3 50.05 L446.8 49.75 L447.3 49.46 L447.8 49.18 L448.3 48.92 L448.8 48.67 L449.3 48.45 L449.8 48.24 L450.3 47.99 L450.8 47.55 L451.3 47.05 L451.8 46.58 L452.3 46.2 L452.8 45.96 L453.3 45.83 L453.8 45.79 L454.3 45.8 L454.8 45.83 L455.3 45.86 L455.8 45.88 L456.3 45.87 L456.8 45.85 L457.3 45.8 L457.8 45.73 L458.3 45.64 L458.8 45.53 L459.3 45.42 L459.8 45.3 L460.3 45.18 L460.8 45.07 L461.3 44.97 L461.8 44.88 L462.3 44.82 L462.8 44.77 L463.3 44.75 L463.8 44.76 L464.3 44.79 L464.8 44.84 L465.3 44.92 L465.8 45.02 L466.3 45.13 L466.8 45.25 L467.3 45.37 L467.8 45.5 L468.3 45.63 L468.8 45.74 L469.3 45.84 L469.8 45.92 L470.3 45.97 L470.8 46.01 L471.3 46.01 L471.8 45.99 L472.3 45.95 L472.8 45.88 L473.3 45.79 L473.8 45.69 L474.3 45.57 L474.8 45.45 L475.3 45.32 L475.8 45.2 L476.3 45.09 L476.8 44.99 L477.3 44.91 L477.8 44.85 L478.3 44.82 L478.8 44.82 L479.3 44.84 L479.8 44.88 L480.3 44.95 L480.8 45.04 L481.3 45.14 L481.8 45.26 L482.3 45.38 L482.8 45.51 L483.3 45.63 L483.8 45.74 L484.3 45.84 L484.8 45.92 L485.3 45.97 L485.8 46.01 L486.3 46.01 L486.8 45.99 L487.3 45.95 L487.8 45.88 L488.3 45.79 L488.8 45.68 L489.3 45.57 L489.8 45.44 L490.3 45.31 L490.8 45.19 L491.3 45.08 L491.8 44.98 L492.3 44.9 L492.8 44.85 L493.3 44.81 L493.8 44.81 L494.3 44.83 L494.8 44.87 L495.3 44.94 L495.8 45.03 L496.3 45.13 L496.8 45.25 L497.3 45.37 L497.8 45.5 L498.3 45.62 L498.8 45.73 L499.3 45.83 L499.8 45.9 L500.3 45.96 L500.8 45.99 L501.3 46 L501.8 45.98 L502.3 45.93 L502.8 45.86 L503.3 45.77 L503.8 45.67 L504.3 45.55 L504.8 45.43 L505.3 45.3 L505.8 45.18 L506.3 45.07 L506.8 44.97 L507.3 44.89 L507.8 44.83 L508.3 44.8 L508.8 44.79 L509.3 44.81 L509.8 44.86 L510.3 44.93 L510.8 45.01 L511.3 45.12 L511.8 45.24 L512.3 45.36" fill="none" stroke="#00a000" stroke-width="1.05" stroke-linejoin="round" stroke-linecap="round"/>
<path d="M330.8 46.23 L331.3 46.23 L331.8 46.19 L332.3 46.11 L332.8 46 L333.3 45.86 L333.8 45.69 L334.3 45.51 L334.8 45.31 L335.3 45.11 L335.8 44.92 L336.3 44.73 L336.8 44.56 L337.3 44.41 L337.8 44.29 L338.3 44.2 L338.8 44.15 L339.3 44.14 L339.8 44.16 L340.3 44.22 L340.8 44.31 L341.3 44.44 L341.8 44.59 L342.3 44.76 L342.8 44.95 L343.3 45.15 L343.8 45.35 L344.3 45.54 L344.8 45.72 L345.3 45.88 L345.8 46.01 L346.3 46.11 L346.8 46.18 L347.3 46.21 L347.8 46.21 L348.3 46.17 L348.8 46.09 L349.3 45.98 L349.8 45.84 L350.3 45.67 L350.8 45.49 L351.3 45.3 L351.8 45.11 L352.3 44.92 L352.8 44.74 L353.3 44.57 L353.8 44.43 L354.3 44.32 L354.8 44.24 L355.3 44.19 L355.8 44.18 L356.3 44.21 L356.8 44.27 L357.3 44.36 L357.8 44.47 L358.3 44.61 L358.8 44.77 L359.3 44.94 L359.8 45.11 L360.3 45.28 L360.8 45.43 L361.3 45.58 L361.8 45.7 L362.3 45.79 L362.8 45.86 L363.3 45.9 L363.8 45.91 L364.3 45.88 L364.8 45.83 L365.3 45.75 L365.8 45.65 L366.3 45.53 L366.8 45.4 L367.3 45.26 L367.8 45.12 L368.3 44.99 L368.8 44.86 L369.3 44.75 L369.8 44.65 L370.3 44.57 L370.8 44.51 L371.3 44.48 L371.8 44.46 L372.3 44.46 L372.8 44.49 L373.3 44.52 L373.8 44.57 L374.3 44.63 L374.8 44.7 L375.3 44.76 L375.8 44.83 L376.3 44.89 L376.8 44.94 L377.3 44.99 L377.8 45.03 L378.3 45.05 L378.8 45.07 L379.3 45.08 L379.8 45.08 L380.3 45.07 L380.8 45.06 L381.3 45.04 L381.8 45.02 L382.3 44.99 L382.8 44.96 L383.3 44.93 L383.8 44.91 L384.3 44.88 L384.8 44.85 L385.3 44.82 L385.8 44.8 L386.3 44.77 L386.8 44.75 L387.3 44.73 L387.8 44.72 L388.3 44.71 L388.8 44.7 L389.3 44.7 L389.8 44.71 L390.3 44.72 L390.8 44.74 L391.3 44.78 L391.8 44.82 L392.3 44.87 L392.8 44.93 L393.3 44.99 L393.8 45.06 L394.3 45.13 L394.8 45.21 L395.3 45.28 L395.8 45.34 L396.3 45.39 L396.8 45.43 L397.3 45.46 L397.8 45.47 L398.3 45.45 L398.8 45.42 L399.3 45.37 L399.8 45.31 L400.3 45.22 L400.8 45.12 L401.3 45.01 L401.8 44.9 L402.3 44.78 L402.8 44.67 L403.3 44.57 L403.8 44.48 L404.3 44.41 L404.8 44.36 L405.3 44.34 L405.8 44.35 L406.3 44.38 L406.8 44.45 L407.3 44.55 L407.8 44.67 L408.3 44.81 L408.8 44.96 L409.3 45.13 L409.8 45.31 L410.3 45.48 L410.8 45.64 L411.3 45.78 L411.8 45.88 L412.3 45.93 L412.8 45.95 L413.3 45.97 L413.8 46.02 L414.3 46.06 L414.8 46.07 L415.3 46.03 L415.8 45.94 L416.3 45.84 L416.8 45.71 L417.3 45.58 L417.8 45.46 L418.3 45.33 L418.8 45.22 L419.3 45.13 L419.8 45.06 L420.3 45.37 L420.8 45.5 L421.3 45.65 L421.8 45.8 L422.3 45.94 L422.8 46.08 L423.3 46.22 L423.8 46.35 L424.3 46.47 L424.8 46.58 L425.3 46.66 L425.8 46.74 L426.3 46.79 L426.8 46.83 L427.3 46.87 L427.8 46.89 L428.3 46.91 L428.8 46.93 L429.3 46.96 L429.8 47 L430.3 47.06 L430.8 47.14 L431.3 47.24 L431.8 47.38 L432.3 47.56 L432.8 47.77 L433.3 48.02 L433.8 48.3 L434.3 48.63 L434.8 48.98 L435.3 49.37 L435.8 49.78 L436.3 50.2 L436.8 50.64 L437.3 51.07 L437.8 51.49 L438.3 51.89 L438.8 52.27 L439.3 52.61 L439.8 52.9 L440.3 53.14 L440.8 53.33 L441.3 53.45 L441.8 53.51 L442.3 53.51 L442.8 53.44 L443.3 53.32 L443.8 53.13 L444.3 52.9 L444.8 52.63 L445.3 52.31 L445.8 51.97 L446.3 51.61 L446.8 51.24 L447.3 50.87 L447.8 50.49 L448.3 50.13 L448.8 49.79 L449.3 49.46 L449.8 49.16 L450.3 48.78 L450.8 48.16 L451.3 47.44 L451.8 46.76 L452.3 46.22 L452.8 45.85 L453.3 45.64 L453.8 45.56 L454.3 45.55 L454.8 45.58 L455.3 45.61 L455.8 45.64 L456.3 45.65 L456.8 45.63 L457.3 45.6 L457.8 45.54 L458.3 45.46 L458.8 45.36 L459.3 45.26 L459.8 45.14 L460.3 45.03 L460.8 44.92 L461.3 44.81 L461.8 44.72 L462.3 44.65 L462.8 44.6 L463.3 44.56 L463.8 44.56 L464.3 44.58 L464.8 44.62 L465.3 44.69 L465.8 44.78 L466.3 44.88 L466.8 45 L467.3 45.12 L467.8 45.25 L468.3 45.38 L468.8 45.5 L469.3 45.6 L469.8 45.69 L470.3 45.77 L470.8 45.81 L471.3 45.83 L471.8 45.83 L472.3 45.8 L472.8 45.74 L473.3 45.67 L473.8 45.57 L474.3 45.46 L474.8 45.34 L475.3 45.21 L475.8 45.09 L476.3 44.97 L476.8 44.87 L477.3 44.78 L477.8 44.71 L478.3 44.66 L478.8 44.64 L479.3 44.64 L479.8 44.67 L480.3 44.73 L480.8 44.81 L481.3 44.9 L481.8 45.01 L482.3 45.13 L482.8 45.26 L483.3 45.38 L483.8 45.5 L484.3 45.61 L484.8 45.7 L485.3 45.77 L485.8 45.81 L486.3 45.83 L486.8 45.83 L487.3 45.8 L487.8 45.74 L488.3 45.66 L488.8 45.57 L489.3 45.45 L489.8 45.33 L490.3 45.21 L490.8 45.08 L491.3 44.96 L491.8 44.86 L492.3 44.77 L492.8 44.7 L493.3 44.65 L493.8 44.63 L494.3 44.63 L494.8 44.66 L495.3 44.72 L495.8 44.79 L496.3 44.89 L496.8 45 L497.3 45.12 L497.8 45.24 L498.3 45.37 L498.8 45.48 L499.3 45.59 L499.8 45.68 L500.3 45.75 L500.8 45.79 L501.3 45.81 L501.8 45.81 L502.3 45.78 L502.8 45.72 L503.3 45.64 L503.8 45.55 L504.3 45.43 L504.8 45.31 L505.3 45.19 L505.8 45.06 L506.3 44.94 L506.8 44.84 L507.3 44.75 L507.8 44.68 L508.3 44.63 L508.8 44.61 L509.3 44.61 L509.8 44.64 L510.3 44.7 L510.8 44.77 L511.3 44.87 L511.8 44.98 L512.3 45.1" fill="none" stroke="#ff0000" stroke-width="1.05" stroke-linejoin="round" stroke-linecap="round"/>
<path d="M330.8 46.02 L331.3 46.04 L331.8 46.02 L332.3 45.97 L332.8 45.88 L333.3 45.76 L333.8 45.61 L334.3 45.43 L334.8 45.25 L335.3 45.05 L335.8 44.85 L336.3 44.66 L336.8 44.47 L337.3 44.31 L337.8 44.17 L338.3 44.06 L338.8 43.99 L339.3 43.95 L339.8 43.95 L340.3 43.98 L340.8 44.06 L341.3 44.16 L341.8 44.3 L342.3 44.46 L342.8 44.64 L343.3 44.83 L343.8 45.03 L344.3 45.23 L344.8 45.42 L345.3 45.59 L345.8 45.74 L346.3 45.86 L346.8 45.95 L347.3 46 L347.8 46.02 L348.3 46 L348.8 45.95 L349.3 45.85 L349.8 45.73 L350.3 45.58 L350.8 45.41 L351.3 45.23 L351.8 45.04 L352.3 44.84 L352.8 44.65 L353.3 44.48 L353.8 44.32 L354.3 44.19 L354.8 44.09 L355.3 44.02 L355.8 43.99 L356.3 43.99 L356.8 44.03 L357.3 44.1 L357.8 44.2 L358.3 44.32 L358.8 44.47 L359.3 44.63 L359.8 44.79 L360.3 44.96 L360.8 45.12 L361.3 45.27 L361.8 45.4 L362.3 45.51 L362.8 45.6 L363.3 45.65 L363.8 45.67 L364.3 45.67 L364.8 45.63 L365.3 45.56 L365.8 45.47 L366.3 45.36 L366.8 45.24 L367.3 45.1 L367.8 44.96 L368.3 44.82 L368.8 44.69 L369.3 44.57 L369.8 44.46 L370.3 44.37 L370.8 44.29 L371.3 44.24 L371.8 44.21 L372.3 44.2 L372.8 44.21 L373.3 44.24 L373.8 44.28 L374.3 44.33 L374.8 44.38 L375.3 44.44 L375.8 44.5 L376.3 44.56 L376.8 44.62 L377.3 44.67 L377.8 44.71 L378.3 44.74 L378.8 44.76 L379.3 44.77 L379.8 44.78 L380.3 44.77 L380.8 44.76 L381.3 44.75 L381.8 44.73 L382.3 44.7 L382.8 44.68 L383.3 44.65 L383.8 44.63 L384.3 44.6 L384.8 44.57 L385.3 44.55 L385.8 44.52 L386.3 44.5 L386.8 44.48 L387.3 44.46 L387.8 44.44 L388.3 44.43 L388.8 44.42 L389.3 44.41 L389.8 44.42 L390.3 44.43 L390.8 44.45 L391.3 44.48 L391.8 44.52 L392.3 44.56 L392.8 44.62 L393.3 44.68 L393.8 44.75 L394.3 44.83 L394.8 44.91 L395.3 44.98 L395.8 45.05 L396.3 45.11 L396.8 45.17 L397.3 45.2 L397.8 45.23 L398.3 45.23 L398.8 45.21 L399.3 45.18 L399.8 45.12 L400.3 45.05 L400.8 44.96 L401.3 44.86 L401.8 44.75 L402.3 44.63 L402.8 44.52 L403.3 44.41 L403.8 44.31 L404.3 44.23 L404.8 44.17 L405.3 44.13 L405.8 44.13 L406.3 44.15 L406.8 44.2 L407.3 44.28 L407.8 44.38 L408.3 44.51 L408.8 44.66 L409.3 44.83 L409.8 45 L410.3 45.18 L410.8 45.35 L411.3 45.49 L411.8 45.6 L412.3 45.65 L412.8 45.67 L413.3 45.71 L413.8 45.79 L414.3 45.88 L414.8 45.93 L415.3 45.93 L415.8 45.88 L416.3 45.8 L416.8 45.7 L417.3 45.6 L417.8 45.49 L418.3 45.39 L418.8 45.3 L419.3 45.22 L419.8 45.15 L420.3 45.36 L420.8 45.5 L421.3 45.65 L421.8 45.8 L422.3 45.95 L422.8 46.09 L423.3 46.24 L423.8 46.37 L424.3 46.5 L424.8 46.62 L425.3 46.72 L425.8 46.81 L426.3 46.89 L426.8 46.96 L427.3 47.03 L427.8 47.09 L428.3 47.15 L428.8 47.22 L429.3 47.3 L429.8 47.39 L430.3 47.51 L430.8 47.65 L431.3 47.82 L431.8 48.03 L432.3 48.28 L432.8 48.57 L433.3 48.9 L433.8 49.28 L434.3 49.69 L434.8 50.14 L435.3 50.62 L435.8 51.12 L436.3 51.65 L436.8 52.18 L437.3 52.71 L437.8 53.23 L438.3 53.73 L438.8 54.19 L439.3 54.62 L439.8 54.99 L440.3 55.3 L440.8 55.55 L441.3 55.72 L441.8 55.82 L442.3 55.84 L442.8 55.78 L443.3 55.65 L443.8 55.45 L444.3 55.19 L444.8 54.86 L445.3 54.49 L445.8 54.07 L446.3 53.63 L446.8 53.16 L447.3 52.68 L447.8 52.2 L448.3 51.72 L448.8 51.25 L449.3 50.8 L449.8 50.38 L450.3 49.84 L450.8 48.98 L451.3 48 L451.8 47.06 L452.3 46.31 L452.8 45.79 L453.3 45.48 L453.8 45.33 L454.3 45.3 L454.8 45.31 L455.3 45.35 L455.8 45.39 L456.3 45.4 L456.8 45.4 L457.3 45.38 L457.8 45.33 L458.3 45.27 L458.8 45.18 L459.3 45.08 L459.8 44.97 L460.3 44.87 L460.8 44.76 L461.3 44.66 L461.8 44.56 L462.3 44.48 L462.8 44.42 L463.3 44.38 L463.8 44.37 L464.3 44.38 L464.8 44.41 L465.3 44.47 L465.8 44.55 L466.3 44.64 L466.8 44.75 L467.3 44.87 L467.8 45 L468.3 45.13 L468.8 45.25 L469.3 45.37 L469.8 45.47 L470.3 45.55 L470.8 45.61 L471.3 45.65 L471.8 45.66 L472.3 45.65 L472.8 45.6 L473.3 45.54 L473.8 45.45 L474.3 45.35 L474.8 45.23 L475.3 45.11 L475.8 44.99 L476.3 44.86 L476.8 44.75 L477.3 44.65 L477.8 44.57 L478.3 44.51 L478.8 44.47 L479.3 44.46 L479.8 44.48 L480.3 44.52 L480.8 44.58 L481.3 44.67 L481.8 44.77 L482.3 44.89 L482.8 45.01 L483.3 45.14 L483.8 45.26 L484.3 45.37 L484.8 45.47 L485.3 45.55 L485.8 45.61 L486.3 45.65 L486.8 45.66 L487.3 45.64 L487.8 45.6 L488.3 45.53 L488.8 45.45 L489.3 45.34 L489.8 45.23 L490.3 45.1 L490.8 44.98 L491.3 44.85 L491.8 44.74 L492.3 44.64 L492.8 44.56 L493.3 44.49 L493.8 44.46 L494.3 44.45 L494.8 44.46 L495.3 44.5 L495.8 44.57 L496.3 44.65 L496.8 44.75 L497.3 44.87 L497.8 44.99 L498.3 45.12 L498.8 45.24 L499.3 45.35 L499.8 45.45 L500.3 45.53 L500.8 45.59 L501.3 45.62 L501.8 45.63 L502.3 45.62 L502.8 45.57 L503.3 45.51 L503.8 45.42 L504.3 45.32 L504.8 45.2 L505.3 45.08 L505.8 44.95 L506.3 44.83 L506.8 44.71 L507.3 44.61 L507.8 44.53 L508.3 44.47 L508.8 44.43 L509.3 44.42 L509.8 44.44 L510.3 44.48 L510.8 44.54 L511.3 44.63 L511.8 44.73 L512.3 44.85" fill="none" stroke="#a00000" stroke-width="1.05" stroke-linejoin="round" stroke-linecap="round"/>
<path d="M330.8 45.8 L331.3 45.84 L331.8 45.85 L332.3 45.82 L332.8 45.75 L333.3 45.65 L333.8 45.51 L334.3 45.35 L334.8 45.17 L335.3 44.98 L335.8 44.78 L336.3 44.59 L336.8 44.39 L337.3 44.22 L337.8 44.06 L338.3 43.94 L338.8 43.84 L339.3 43.78 L339.8 43.75 L340.3 43.76 L340.8 43.81 L341.3 43.9 L341.8 44.02 L342.3 44.16 L342.8 44.33 L343.3 44.52 L343.8 44.71 L344.3 44.91 L344.8 45.11 L345.3 45.29 L345.8 45.45 L346.3 45.59 L346.8 45.7 L347.3 45.78 L347.8 45.82 L348.3 45.82 L348.8 45.79 L349.3 45.72 L349.8 45.62 L350.3 45.48 L350.8 45.32 L351.3 45.15 L351.8 44.96 L352.3 44.76 L352.8 44.57 L353.3 44.39 L353.8 44.22 L354.3 44.07 L354.8 43.95 L355.3 43.86 L355.8 43.8 L356.3 43.78 L356.8 43.79 L357.3 43.84 L357.8 43.92 L358.3 44.03 L358.8 44.16 L359.3 44.3 L359.8 44.46 L360.3 44.63 L360.8 44.79 L361.3 44.94 L361.8 45.08 L362.3 45.2 L362.8 45.3 L363.3 45.36 L363.8 45.4 L364.3 45.41 L364.8 45.38 L365.3 45.33 L365.8 45.25 L366.3 45.15 L366.8 45.03 L367.3 44.9 L367.8 44.76 L368.3 44.61 L368.8 44.47 L369.3 44.34 L369.8 44.22 L370.3 44.11 L370.8 44.02 L371.3 43.95 L371.8 43.91 L372.3 43.88 L372.8 43.87 L373.3 43.88 L373.8 43.9 L374.3 43.94 L374.8 43.99 L375.3 44.04 L375.8 44.09 L376.3 44.15 L376.8 44.2 L377.3 44.25 L377.8 44.29 L378.3 44.32 L378.8 44.34 L379.3 44.36 L379.8 44.37 L380.3 44.37 L380.8 44.36 L381.3 44.35 L381.8 44.33 L382.3 44.31 L382.8 44.29 L383.3 44.26 L383.8 44.24 L384.3 44.21 L384.8 44.19 L385.3 44.17 L385.8 44.14 L386.3 44.12 L386.8 44.1 L387.3 44.08 L387.8 44.06 L388.3 44.05 L388.8 44.04 L389.3 44.04 L389.8 44.04 L390.3 44.05 L390.8 44.07 L391.3 44.1 L391.8 44.13 L392.3 44.18 L392.8 44.23 L393.3 44.3 L393.8 44.37 L394.3 44.45 L394.8 44.53 L395.3 44.61 L395.8 44.69 L396.3 44.76 L396.8 44.83 L397.3 44.88 L397.8 44.92 L398.3 44.94 L398.8 44.94 L399.3 44.92 L399.8 44.88 L400.3 44.82 L400.8 44.75 L401.3 44.66 L401.8 44.56 L402.3 44.45 L402.8 44.34 L403.3 44.23 L403.8 44.13 L404.3 44.04 L404.8 43.97 L405.3 43.92 L405.8 43.9 L406.3 43.9 L406.8 43.94 L407.3 44 L407.8 44.1 L408.3 44.22 L408.8 44.36 L409.3 44.52 L409.8 44.69 L410.3 44.87 L410.8 45.04 L411.3 45.19 L411.8 45.29 L412.3 45.33 L412.8 45.33 L413.3 45.38 L413.8 45.5 L414.3 45.66 L414.8 45.79 L415.3 45.84 L415.8 45.84 L416.3 45.8 L416.8 45.75 L417.3 45.69 L417.8 45.63 L418.3 45.58 L418.8 45.53 L419.3 45.48 L419.8 45.45 L420.3 45.57 L420.8 45.74 L421.3 45.9 L421.8 46.06 L422.3 46.21 L422.8 46.36 L423.3 46.51 L423.8 46.65 L424.3 46.79 L424.8 46.91 L425.3 47.03 L425.8 47.15 L426.3 47.26 L426.8 47.37 L427.3 47.48 L427.8 47.6 L428.3 47.73 L428.8 47.87 L429.3 48.04 L429.8 48.24 L430.3 48.47 L430.8 48.74 L431.3 49.05 L431.8 49.41 L432.3 49.82 L432.8 50.28 L433.3 50.79 L433.8 51.35 L434.3 51.96 L434.8 52.61 L435.3 53.3 L435.8 54.01 L436.3 54.74 L436.8 55.48 L437.3 56.22 L437.8 56.94 L438.3 57.63 L438.8 58.28 L439.3 58.87 L439.8 59.39 L440.3 59.83 L440.8 60.19 L441.3 60.45 L441.8 60.61 L442.3 60.66 L442.8 60.61 L443.3 60.46 L443.8 60.21 L444.3 59.87 L444.8 59.44 L445.3 58.94 L445.8 58.38 L446.3 57.77 L446.8 57.11 L447.3 56.42 L447.8 55.72 L448.3 55.02 L448.8 54.32 L449.3 53.63 L449.8 52.97 L450.3 52.13 L450.8 50.82 L451.3 49.32 L451.8 47.89 L452.3 46.73 L452.8 45.9 L453.3 45.39 L453.8 45.13 L454.3 45.03 L454.8 45.02 L455.3 45.05 L455.8 45.08 L456.3 45.11 L456.8 45.12 L457.3 45.1 L457.8 45.07 L458.3 45.02 L458.8 44.94 L459.3 44.86 L459.8 44.76 L460.3 44.66 L460.8 44.56 L461.3 44.47 L461.8 44.38 L462.3 44.3 L462.8 44.24 L463.3 44.2 L463.8 44.18 L464.3 44.18 L464.8 44.21 L465.3 44.26 L465.8 44.33 L466.3 44.42 L466.8 44.52 L467.3 44.64 L467.8 44.77 L468.3 44.9 L468.8 45.02 L469.3 45.15 L469.8 45.26 L470.3 45.35 L470.8 45.42 L471.3 45.47 L471.8 45.5 L472.3 45.5 L472.8 45.47 L473.3 45.42 L473.8 45.35 L474.3 45.25 L474.8 45.14 L475.3 45.02 L475.8 44.9 L476.3 44.78 L476.8 44.66 L477.3 44.55 L477.8 44.46 L478.3 44.38 L478.8 44.33 L479.3 44.31 L479.8 44.31 L480.3 44.34 L480.8 44.39 L481.3 44.46 L481.8 44.56 L482.3 44.66 L482.8 44.78 L483.3 44.91 L483.8 45.03 L484.3 45.15 L484.8 45.26 L485.3 45.35 L485.8 45.42 L486.3 45.47 L486.8 45.5 L487.3 45.49 L487.8 45.47 L488.3 45.41 L488.8 45.34 L489.3 45.24 L489.8 45.13 L490.3 45.01 L490.8 44.89 L491.3 44.76 L491.8 44.64 L492.3 44.53 L492.8 44.44 L493.3 44.36 L493.8 44.31 L494.3 44.28 L494.8 44.28 L495.3 44.31 L495.8 44.36 L496.3 44.43 L496.8 44.53 L497.3 44.63 L497.8 44.75 L498.3 44.88 L498.8 45 L499.3 45.12 L499.8 45.22 L500.3 45.32 L500.8 45.39 L501.3 45.44 L501.8 45.46 L502.3 45.46 L502.8 45.43 L503.3 45.38 L503.8 45.3 L504.3 45.2 L504.8 45.09 L505.3 44.97 L505.8 44.85 L506.3 44.72 L506.8 44.6 L507.3 44.49 L507.8 44.4 L508.3 44.32 L508.8 44.27 L509.3 44.25 L509.8 44.25 L510.3 44.27 L510.8 44.32 L511.3 44.4 L511.8 44.49 L512.3 44.6" fill="none" stroke="#0000b0" stroke-width="1.05" stroke-linejoin="round" stroke-linecap="round"/>
<path d="M330.8 45.56 L331.3 45.63 L331.8 45.66 L332.3 45.65 L332.8 45.6 L333.3 45.52 L333.8 45.41 L334.3 45.26 L334.8 45.1 L335.3 44.91 L335.8 44.72 L336.3 44.52 L336.8 44.32 L337.3 44.14 L337.8 43.97 L338.3 43.82 L338.8 43.7 L339.3 43.62 L339.8 43.57 L340.3 43.56 L340.8 43.59 L341.3 43.65 L341.8 43.75 L342.3 43.88 L342.8 44.03 L343.3 44.21 L343.8 44.4 L344.3 44.6 L344.8 44.79 L345.3 44.98 L345.8 45.16 L346.3 45.31 L346.8 45.44 L347.3 45.54 L347.8 45.6 L348.3 45.63 L348.8 45.62 L349.3 45.57 L349.8 45.49 L350.3 45.37 L350.8 45.23 L351.3 45.06 L351.8 44.88 L352.3 44.69 L352.8 44.49 L353.3 44.3 L353.8 44.12 L354.3 43.96 L354.8 43.82 L355.3 43.71 L355.8 43.63 L356.3 43.58 L356.8 43.57 L357.3 43.59 L357.8 43.65 L358.3 43.74 L358.8 43.85 L359.3 43.98 L359.8 44.13 L360.3 44.29 L360.8 44.45 L361.3 44.6 L361.8 44.75 L362.3 44.87 L362.8 44.98 L363.3 45.05 L363.8 45.11 L364.3 45.13 L364.8 45.11 L365.3 45.07 L365.8 45.01 L366.3 44.91 L366.8 44.8 L367.3 44.67 L367.8 44.53 L368.3 44.38 L368.8 44.23 L369.3 44.09 L369.8 43.95 L370.3 43.83 L370.8 43.73 L371.3 43.64 L371.8 43.58 L372.3 43.53 L372.8 43.51 L373.3 43.5 L373.8 43.51 L374.3 43.53 L374.8 43.56 L375.3 43.61 L375.8 43.65 L376.3 43.7 L376.8 43.75 L377.3 43.79 L377.8 43.83 L378.3 43.86 L378.8 43.89 L379.3 43.9 L379.8 43.91 L380.3 43.92 L380.8 43.91 L381.3 43.9 L381.8 43.89 L382.3 43.87 L382.8 43.86 L383.3 43.83 L383.8 43.81 L384.3 43.79 L384.8 43.77 L385.3 43.75 L385.8 43.73 L386.3 43.71 L386.8 43.69 L387.3 43.67 L387.8 43.66 L388.3 43.65 L388.8 43.64 L389.3 43.63 L389.8 43.64 L390.3 43.64 L390.8 43.66 L391.3 43.69 L391.8 43.72 L392.3 43.77 L392.8 43.82 L393.3 43.88 L393.8 43.96 L394.3 44.04 L394.8 44.12 L395.3 44.21 L395.8 44.29 L396.3 44.38 L396.8 44.45 L397.3 44.52 L397.8 44.57 L398.3 44.61 L398.8 44.63 L399.3 44.64 L399.8 44.62 L400.3 44.58 L400.8 44.52 L401.3 44.44 L401.8 44.35 L402.3 44.25 L402.8 44.15 L403.3 44.04 L403.8 43.94 L404.3 43.85 L404.8 43.77 L405.3 43.71 L405.8 43.68 L406.3 43.67 L406.8 43.69 L407.3 43.74 L407.8 43.82 L408.3 43.92 L408.8 44.05 L409.3 44.21 L409.8 44.37 L410.3 44.55 L410.8 44.73 L411.3 44.88 L411.8 44.96 L412.3 44.98 L412.8 44.96 L413.3 45.01 L413.8 45.18 L414.3 45.42 L414.8 45.63 L415.3 45.75 L415.8 45.8 L416.3 45.82 L416.8 45.82 L417.3 45.81 L417.8 45.81 L418.3 45.81 L418.8 45.81 L419.3 45.81 L419.8 45.82 L420.3 45.87 L420.8 46.06 L421.3 46.24 L421.8 46.41 L422.3 46.56 L422.8 46.72 L423.3 46.86 L423.8 47 L424.3 47.14 L424.8 47.27 L425.3 47.4 L425.8 47.53 L426.3 47.67 L426.8 47.81 L427.3 47.97 L427.8 48.15 L428.3 48.35 L428.8 48.59 L429.3 48.86 L429.8 49.17 L430.3 49.54 L430.8 49.95 L431.3 50.43 L431.8 50.96 L432.3 51.56 L432.8 52.22 L433.3 52.95 L433.8 53.74 L434.3 54.59 L434.8 55.48 L435.3 56.42 L435.8 57.39 L436.3 58.38 L436.8 59.38 L437.3 60.37 L437.8 61.33 L438.3 62.26 L438.8 63.12 L439.3 63.92 L439.8 64.62 L440.3 65.22 L440.8 65.71 L441.3 66.07 L441.8 66.3 L442.3 66.39 L442.8 66.35 L443.3 66.17 L443.8 65.86 L444.3 65.42 L444.8 64.87 L445.3 64.22 L445.8 63.47 L446.3 62.65 L446.8 61.76 L447.3 60.83 L447.8 59.87 L448.3 58.89 L448.8 57.91 L449.3 56.94 L449.8 55.99 L450.3 54.79 L450.8 52.96 L451.3 50.85 L451.8 48.86 L452.3 47.23 L452.8 46.06 L453.3 45.32 L453.8 44.93 L454.3 44.76 L454.8 44.71 L455.3 44.73 L455.8 44.76 L456.3 44.79 L456.8 44.81 L457.3 44.8 L457.8 44.78 L458.3 44.74 L458.8 44.68 L459.3 44.61 L459.8 44.52 L460.3 44.44 L460.8 44.35 L461.3 44.27 L461.8 44.19 L462.3 44.11 L462.8 44.06 L463.3 44.01 L463.8 43.99 L464.3 43.99 L464.8 44.01 L465.3 44.06 L465.8 44.13 L466.3 44.21 L466.8 44.3 L467.3 44.42 L467.8 44.54 L468.3 44.67 L468.8 44.8 L469.3 44.92 L469.8 45.04 L470.3 45.15 L470.8 45.23 L471.3 45.3 L471.8 45.34 L472.3 45.35 L472.8 45.34 L473.3 45.3 L473.8 45.24 L474.3 45.16 L474.8 45.06 L475.3 44.94 L475.8 44.82 L476.3 44.69 L476.8 44.57 L477.3 44.46 L477.8 44.36 L478.3 44.27 L478.8 44.21 L479.3 44.17 L479.8 44.15 L480.3 44.17 L480.8 44.2 L481.3 44.27 L481.8 44.35 L482.3 44.45 L482.8 44.56 L483.3 44.69 L483.8 44.81 L484.3 44.93 L484.8 45.05 L485.3 45.15 L485.8 45.23 L486.3 45.3 L486.8 45.33 L487.3 45.35 L487.8 45.33 L488.3 45.29 L488.8 45.23 L489.3 45.14 L489.8 45.04 L490.3 44.92 L490.8 44.8 L491.3 44.67 L491.8 44.55 L492.3 44.43 L492.8 44.33 L493.3 44.24 L493.8 44.18 L494.3 44.13 L494.8 44.12 L495.3 44.13 L495.8 44.17 L496.3 44.23 L496.8 44.31 L497.3 44.41 L497.8 44.52 L498.3 44.64 L498.8 44.76 L499.3 44.88 L499.8 45 L500.3 45.1 L500.8 45.18 L501.3 45.24 L501.8 45.28 L502.3 45.29 L502.8 45.28 L503.3 45.24 L503.8 45.18 L504.3 45.09 L504.8 44.99 L505.3 44.87 L505.8 44.75 L506.3 44.62 L506.8 44.5 L507.3 44.38 L507.8 44.28 L508.3 44.19 L508.8 44.12 L509.3 44.08 L509.8 44.07 L510.3 44.08 L510.8 44.12 L511.3 44.18 L511.8 44.26 L512.3 44.36" fill="none" stroke="#a0a000" stroke-width="1.05" stroke-linejoin="round" stroke-linecap="round"/>
<path d="M330.8 45.31 L331.3 45.4 L331.8 45.45 L332.3 45.47 L332.8 45.44 L333.3 45.39 L333.8 45.29 L334.3 45.17 L334.8 45.01 L335.3 44.84 L335.8 44.65 L336.3 44.45 L336.8 44.25 L337.3 44.06 L337.8 43.88 L338.3 43.72 L338.8 43.58 L339.3 43.48 L339.8 43.41 L340.3 43.37 L340.8 43.37 L341.3 43.41 L341.8 43.49 L342.3 43.6 L342.8 43.74 L343.3 43.9 L343.8 44.08 L344.3 44.28 L344.8 44.48 L345.3 44.67 L345.8 44.85 L346.3 45.02 L346.8 45.17 L347.3 45.29 L347.8 45.37 L348.3 45.42 L348.8 45.43 L349.3 45.41 L349.8 45.35 L350.3 45.25 L350.8 45.12 L351.3 44.97 L351.8 44.79 L352.3 44.61 L352.8 44.41 L353.3 44.22 L353.8 44.03 L354.3 43.85 L354.8 43.7 L355.3 43.57 L355.8 43.47 L356.3 43.4 L356.8 43.36 L357.3 43.36 L357.8 43.4 L358.3 43.46 L358.8 43.56 L359.3 43.67 L359.8 43.81 L360.3 43.96 L360.8 44.11 L361.3 44.26 L361.8 44.41 L362.3 44.54 L362.8 44.65 L363.3 44.74 L363.8 44.81 L364.3 44.84 L364.8 44.84 L365.3 44.82 L365.8 44.76 L366.3 44.68 L366.8 44.57 L367.3 44.44 L367.8 44.31 L368.3 44.16 L368.8 44.01 L369.3 43.86 L369.8 43.71 L370.3 43.58 L370.8 43.46 L371.3 43.36 L371.8 43.28 L372.3 43.21 L372.8 43.17 L373.3 43.15 L373.8 43.14 L374.3 43.15 L374.8 43.17 L375.3 43.2 L375.8 43.24 L376.3 43.28 L376.8 43.32 L377.3 43.36 L377.8 43.4 L378.3 43.43 L378.8 43.46 L379.3 43.48 L379.8 43.49 L380.3 43.49 L380.8 43.49 L381.3 43.49 L381.8 43.48 L382.3 43.46 L382.8 43.45 L383.3 43.43 L383.8 43.41 L384.3 43.39 L384.8 43.38 L385.3 43.36 L385.8 43.34 L386.3 43.32 L386.8 43.31 L387.3 43.29 L387.8 43.28 L388.3 43.27 L388.8 43.26 L389.3 43.26 L389.8 43.26 L390.3 43.26 L390.8 43.28 L391.3 43.3 L391.8 43.33 L392.3 43.38 L392.8 43.43 L393.3 43.49 L393.8 43.56 L394.3 43.64 L394.8 43.73 L395.3 43.82 L395.8 43.91 L396.3 44.01 L396.8 44.09 L397.3 44.17 L397.8 44.24 L398.3 44.3 L398.8 44.34 L399.3 44.36 L399.8 44.36 L400.3 44.34 L400.8 44.3 L401.3 44.24 L401.8 44.16 L402.3 44.07 L402.8 43.97 L403.3 43.87 L403.8 43.77 L404.3 43.67 L404.8 43.59 L405.3 43.52 L405.8 43.47 L406.3 43.45 L406.8 43.45 L407.3 43.49 L407.8 43.55 L408.3 43.64 L408.8 43.76 L409.3 43.9 L409.8 44.06 L410.3 44.24 L410.8 44.41 L411.3 44.56 L411.8 44.64 L412.3 44.63 L412.8 44.59 L413.3 44.64 L413.8 44.86 L414.3 45.18 L414.8 45.46 L415.3 45.64 L415.8 45.74 L416.3 45.81 L416.8 45.86 L417.3 45.9 L417.8 45.95 L418.3 46 L418.8 46.05 L419.3 46.1 L419.8 46.14 L420.3 46.11 L420.8 46.31 L421.3 46.51 L421.8 46.68 L422.3 46.84 L422.8 46.99 L423.3 47.13 L423.8 47.26 L424.3 47.4 L424.8 47.53 L425.3 47.66 L425.8 47.8 L426.3 47.96 L426.8 48.13 L427.3 48.33 L427.8 48.55 L428.3 48.82 L428.8 49.13 L429.3 49.49 L429.8 49.9 L430.3 50.38 L430.8 50.93 L431.3 51.54 L431.8 52.24 L432.3 53 L432.8 53.85 L433.3 54.77 L433.8 55.76 L434.3 56.82 L434.8 57.93 L435.3 59.1 L435.8 60.3 L436.3 61.53 L436.8 62.76 L437.3 63.98 L437.8 65.16 L438.3 66.3 L438.8 67.37 L439.3 68.35 L439.8 69.22 L440.3 69.97 L440.8 70.58 L441.3 71.03 L441.8 71.33 L442.3 71.46 L442.8 71.42 L443.3 71.22 L443.8 70.85 L444.3 70.33 L444.8 69.66 L445.3 68.87 L445.8 67.95 L446.3 66.94 L446.8 65.85 L447.3 64.69 L447.8 63.48 L448.3 62.25 L448.8 61.02 L449.3 59.79 L449.8 58.58 L450.3 57.06 L450.8 54.76 L451.3 52.13 L451.8 49.65 L452.3 47.61 L452.8 46.15 L453.3 45.22 L453.8 44.71 L454.3 44.48 L454.8 44.4 L455.3 44.41 L455.8 44.44 L456.3 44.47 L456.8 44.5 L457.3 44.51 L457.8 44.5 L458.3 44.47 L458.8 44.42 L459.3 44.37 L459.8 44.29 L460.3 44.22 L460.8 44.15 L461.3 44.07 L461.8 44 L462.3 43.94 L462.8 43.88 L463.3 43.84 L463.8 43.82 L464.3 43.81 L464.8 43.83 L465.3 43.87 L465.8 43.93 L466.3 44 L466.8 44.09 L467.3 44.19 L467.8 44.31 L468.3 44.44 L468.8 44.57 L469.3 44.7 L469.8 44.82 L470.3 44.93 L470.8 45.03 L471.3 45.11 L471.8 45.16 L472.3 45.19 L472.8 45.19 L473.3 45.17 L473.8 45.12 L474.3 45.05 L474.8 44.96 L475.3 44.85 L475.8 44.74 L476.3 44.61 L476.8 44.49 L477.3 44.37 L477.8 44.26 L478.3 44.16 L478.8 44.08 L479.3 44.03 L479.8 44 L480.3 44 L480.8 44.02 L481.3 44.07 L481.8 44.14 L482.3 44.23 L482.8 44.34 L483.3 44.46 L483.8 44.58 L484.3 44.71 L484.8 44.83 L485.3 44.94 L485.8 45.03 L486.3 45.1 L486.8 45.16 L487.3 45.18 L487.8 45.18 L488.3 45.16 L488.8 45.11 L489.3 45.03 L489.8 44.94 L490.3 44.83 L490.8 44.71 L491.3 44.58 L491.8 44.46 L492.3 44.33 L492.8 44.22 L493.3 44.12 L493.8 44.05 L494.3 43.99 L494.8 43.96 L495.3 43.95 L495.8 43.98 L496.3 44.02 L496.8 44.09 L497.3 44.18 L497.8 44.29 L498.3 44.4 L498.8 44.52 L499.3 44.65 L499.8 44.76 L500.3 44.87 L500.8 44.97 L501.3 45.04 L501.8 45.09 L502.3 45.12 L502.8 45.12 L503.3 45.09 L503.8 45.04 L504.3 44.97 L504.8 44.88 L505.3 44.77 L505.8 44.65 L506.3 44.52 L506.8 44.39 L507.3 44.27 L507.8 44.16 L508.3 44.06 L508.8 43.98 L509.3 43.93 L509.8 43.89 L510.3 43.89 L510.8 43.91 L511.3 43.96 L511.8 44.03 L512.3 44.13" fill="none" stroke="#ff00ff" stroke-width="1.05" stroke-linejoin="round" stroke-linecap="round"/>
<path d="M330.8 45.04 L331.3 45.15 L331.8 45.23 L332.3 45.27 L332.8 45.27 L333.3 45.24 L333.8 45.16 L334.3 45.06 L334.8 44.92 L335.3 44.76 L335.8 44.58 L336.3 44.39 L336.8 44.19 L337.3 43.99 L337.8 43.8 L338.3 43.63 L338.8 43.47 L339.3 43.35 L339.8 43.26 L340.3 43.2 L340.8 43.18 L341.3 43.19 L341.8 43.25 L342.3 43.34 L342.8 43.46 L343.3 43.6 L343.8 43.78 L344.3 43.96 L344.8 44.16 L345.3 44.35 L345.8 44.54 L346.3 44.72 L346.8 44.88 L347.3 45.02 L347.8 45.12 L348.3 45.19 L348.8 45.23 L349.3 45.23 L349.8 45.19 L350.3 45.11 L350.8 45 L351.3 44.86 L351.8 44.7 L352.3 44.52 L352.8 44.32 L353.3 44.13 L353.8 43.93 L354.3 43.75 L354.8 43.57 L355.3 43.43 L355.8 43.3 L356.3 43.21 L356.8 43.15 L357.3 43.13 L357.8 43.14 L358.3 43.18 L358.8 43.25 L359.3 43.35 L359.8 43.47 L360.3 43.6 L360.8 43.74 L361.3 43.89 L361.8 44.03 L362.3 44.16 L362.8 44.28 L363.3 44.38 L363.8 44.45 L364.3 44.49 L364.8 44.5 L365.3 44.48 L365.8 44.43 L366.3 44.36 L366.8 44.25 L367.3 44.13 L367.8 43.99 L368.3 43.84 L368.8 43.68 L369.3 43.52 L369.8 43.36 L370.3 43.21 L370.8 43.07 L371.3 42.95 L371.8 42.85 L372.3 42.76 L372.8 42.7 L373.3 42.65 L373.8 42.63 L374.3 42.61 L374.8 42.62 L375.3 42.63 L375.8 42.66 L376.3 42.69 L376.8 42.72 L377.3 42.75 L377.8 42.78 L378.3 42.81 L378.8 42.83 L379.3 42.85 L379.8 42.86 L380.3 42.87 L380.8 42.87 L381.3 42.87 L381.8 42.86 L382.3 42.85 L382.8 42.84 L383.3 42.82 L383.8 42.81 L384.3 42.8 L384.8 42.78 L385.3 42.77 L385.8 42.76 L386.3 42.75 L386.8 42.74 L387.3 42.73 L387.8 42.72 L388.3 42.71 L388.8 42.71 L389.3 42.71 L389.8 42.71 L390.3 42.72 L390.8 42.74 L391.3 42.76 L391.8 42.79 L392.3 42.84 L392.8 42.89 L393.3 42.95 L393.8 43.02 L394.3 43.11 L394.8 43.2 L395.3 43.3 L395.8 43.4 L396.3 43.5 L396.8 43.6 L397.3 43.7 L397.8 43.79 L398.3 43.86 L398.8 43.93 L399.3 43.97 L399.8 44 L400.3 44 L400.8 43.98 L401.3 43.95 L401.8 43.89 L402.3 43.82 L402.8 43.74 L403.3 43.65 L403.8 43.55 L404.3 43.46 L404.8 43.37 L405.3 43.3 L405.8 43.24 L406.3 43.21 L406.8 43.2 L407.3 43.22 L407.8 43.27 L408.3 43.35 L408.8 43.46 L409.3 43.59 L409.8 43.75 L410.3 43.92 L410.8 44.09 L411.3 44.22 L411.8 44.27 L412.3 44.21 L412.8 44.11 L413.3 44.16 L413.8 44.45 L414.3 44.88 L414.8 45.28 L415.3 45.55 L415.8 45.74 L416.3 45.88 L416.8 46.01 L417.3 46.14 L417.8 46.28 L418.3 46.42 L418.8 46.56 L419.3 46.7 L419.8 46.82 L420.3 46.74 L420.8 47 L421.3 47.22 L421.8 47.41 L422.3 47.57 L422.8 47.7 L423.3 47.83 L423.8 47.95 L424.3 48.07 L424.8 48.18 L425.3 48.31 L425.8 48.45 L426.3 48.61 L426.8 48.81 L427.3 49.05 L427.8 49.34 L428.3 49.7 L428.8 50.12 L429.3 50.63 L429.8 51.21 L430.3 51.89 L430.8 52.67 L431.3 53.55 L431.8 54.53 L432.3 55.62 L432.8 56.82 L433.3 58.11 L433.8 59.5 L434.3 60.99 L434.8 62.54 L435.3 64.17 L435.8 65.83 L436.3 67.53 L436.8 69.23 L437.3 70.91 L437.8 72.55 L438.3 74.12 L438.8 75.59 L439.3 76.94 L439.8 78.14 L440.3 79.17 L440.8 80.01 L441.3 80.65 L441.8 81.07 L442.3 81.26 L442.8 81.21 L443.3 80.94 L443.8 80.45 L444.3 79.75 L444.8 78.84 L445.3 77.75 L445.8 76.5 L446.3 75.11 L446.8 73.6 L447.3 71.99 L447.8 70.32 L448.3 68.61 L448.8 66.88 L449.3 65.15 L449.8 63.46 L450.3 61.34 L450.8 58.18 L451.3 54.6 L451.8 51.23 L452.3 48.48 L452.8 46.49 L453.3 45.23 L453.8 44.52 L454.3 44.17 L454.8 44.04 L455.3 44.02 L455.8 44.04 L456.3 44.07 L456.8 44.09 L457.3 44.11 L457.8 44.11 L458.3 44.1 L458.8 44.07 L459.3 44.03 L459.8 43.97 L460.3 43.92 L460.8 43.87 L461.3 43.82 L461.8 43.77 L462.3 43.72 L462.8 43.68 L463.3 43.65 L463.8 43.63 L464.3 43.63 L464.8 43.65 L465.3 43.69 L465.8 43.75 L466.3 43.82 L466.8 43.9 L467.3 44 L467.8 44.11 L468.3 44.24 L468.8 44.37 L469.3 44.5 L469.8 44.63 L470.3 44.75 L470.8 44.85 L471.3 44.94 L471.8 45.01 L472.3 45.05 L472.8 45.07 L473.3 45.06 L473.8 45.03 L474.3 44.97 L474.8 44.89 L475.3 44.79 L475.8 44.68 L476.3 44.56 L476.8 44.43 L477.3 44.31 L477.8 44.19 L478.3 44.09 L478.8 44 L479.3 43.94 L479.8 43.89 L480.3 43.87 L480.8 43.88 L481.3 43.92 L481.8 43.98 L482.3 44.06 L482.8 44.15 L483.3 44.27 L483.8 44.39 L484.3 44.51 L484.8 44.64 L485.3 44.75 L485.8 44.85 L486.3 44.94 L486.8 45 L487.3 45.04 L487.8 45.06 L488.3 45.05 L488.8 45.01 L489.3 44.95 L489.8 44.86 L490.3 44.76 L490.8 44.65 L491.3 44.52 L491.8 44.39 L492.3 44.27 L492.8 44.15 L493.3 44.04 L493.8 43.95 L494.3 43.88 L494.8 43.83 L495.3 43.81 L495.8 43.82 L496.3 43.85 L496.8 43.91 L497.3 43.98 L497.8 44.08 L498.3 44.19 L498.8 44.31 L499.3 44.43 L499.8 44.55 L500.3 44.66 L500.8 44.76 L501.3 44.85 L501.8 44.91 L502.3 44.95 L502.8 44.97 L503.3 44.96 L503.8 44.92 L504.3 44.86 L504.8 44.77 L505.3 44.67 L505.8 44.56 L506.3 44.43 L506.8 44.3 L507.3 44.18 L507.8 44.06 L508.3 43.95 L508.8 43.86 L509.3 43.79 L509.8 43.74 L510.3 43.73 L510.8 43.73 L511.3 43.77 L511.8 43.83 L512.3 43.91" fill="none" stroke="#00a0a0" stroke-width="1.05" stroke-linejoin="round" stroke-linecap="round"/>
<path d="M330.8 44.77 L331.3 44.9 L331.8 44.99 L332.3 45.06 L332.8 45.08 L333.3 45.07 L333.8 45.02 L334.3 44.94 L334.8 44.82 L335.3 44.67 L335.8 44.5 L336.3 44.32 L336.8 44.12 L337.3 43.92 L337.8 43.73 L338.3 43.54 L338.8 43.37 L339.3 43.23 L339.8 43.12 L340.3 43.04 L340.8 42.99 L341.3 42.98 L341.8 43.02 L342.3 43.08 L342.8 43.18 L343.3 43.31 L343.8 43.47 L344.3 43.65 L344.8 43.84 L345.3 44.03 L345.8 44.23 L346.3 44.42 L346.8 44.59 L347.3 44.74 L347.8 44.86 L348.3 44.95 L348.8 45.01 L349.3 45.03 L349.8 45.01 L350.3 44.95 L350.8 44.86 L351.3 44.74 L351.8 44.59 L352.3 44.42 L352.8 44.23 L353.3 44.03 L353.8 43.83 L354.3 43.63 L354.8 43.45 L355.3 43.28 L355.8 43.14 L356.3 43.02 L356.8 42.94 L357.3 42.88 L357.8 42.87 L358.3 42.88 L358.8 42.93 L359.3 43 L359.8 43.1 L360.3 43.21 L360.8 43.34 L361.3 43.47 L361.8 43.61 L362.3 43.73 L362.8 43.85 L363.3 43.94 L363.8 44.02 L364.3 44.06 L364.8 44.08 L365.3 44.06 L365.8 44.02 L366.3 43.94 L366.8 43.84 L367.3 43.71 L367.8 43.57 L368.3 43.41 L368.8 43.24 L369.3 43.06 L369.8 42.89 L370.3 42.72 L370.8 42.56 L371.3 42.41 L371.8 42.28 L372.3 42.17 L372.8 42.08 L373.3 42 L373.8 41.95 L374.3 41.91 L374.8 41.89 L375.3 41.89 L375.8 41.89 L376.3 41.9 L376.8 41.92 L377.3 41.94 L377.8 41.96 L378.3 41.98 L378.8 41.99 L379.3 42.01 L379.8 42.02 L380.3 42.02 L380.8 42.02 L381.3 42.02 L381.8 42.02 L382.3 42.01 L382.8 42 L383.3 41.99 L383.8 41.98 L384.3 41.98 L384.8 41.97 L385.3 41.96 L385.8 41.96 L386.3 41.96 L386.8 41.96 L387.3 41.95 L387.8 41.96 L388.3 41.96 L388.8 41.96 L389.3 41.97 L389.8 41.98 L390.3 42 L390.8 42.02 L391.3 42.05 L391.8 42.08 L392.3 42.13 L392.8 42.18 L393.3 42.25 L393.8 42.33 L394.3 42.41 L394.8 42.51 L395.3 42.62 L395.8 42.73 L396.3 42.84 L396.8 42.96 L397.3 43.08 L397.8 43.19 L398.3 43.29 L398.8 43.38 L399.3 43.46 L399.8 43.52 L400.3 43.56 L400.8 43.57 L401.3 43.57 L401.8 43.54 L402.3 43.5 L402.8 43.44 L403.3 43.36 L403.8 43.28 L404.3 43.2 L404.8 43.12 L405.3 43.05 L405.8 42.99 L406.3 42.95 L406.8 42.94 L407.3 42.95 L407.8 42.99 L408.3 43.05 L408.8 43.15 L409.3 43.27 L409.8 43.42 L410.3 43.59 L410.8 43.75 L411.3 43.87 L411.8 43.86 L412.3 43.71 L412.8 43.52 L413.3 43.54 L413.8 43.92 L414.3 44.52 L414.8 45.09 L415.3 45.5 L415.8 45.79 L416.3 46.04 L416.8 46.29 L417.3 46.54 L417.8 46.81 L418.3 47.09 L418.8 47.37 L419.3 47.64 L419.8 47.89 L420.3 47.8 L420.8 48.13 L421.3 48.4 L421.8 48.61 L422.3 48.76 L422.8 48.88 L423.3 48.97 L423.8 49.05 L424.3 49.12 L424.8 49.19 L425.3 49.27 L425.8 49.38 L426.3 49.52 L426.8 49.73 L427.3 50 L427.8 50.35 L428.3 50.8 L428.8 51.36 L429.3 52.04 L429.8 52.85 L430.3 53.8 L430.8 54.9 L431.3 56.15 L431.8 57.56 L432.3 59.12 L432.8 60.84 L433.3 62.71 L433.8 64.73 L434.3 66.87 L434.8 69.13 L435.3 71.47 L435.8 73.89 L436.3 76.35 L436.8 78.82 L437.3 81.26 L437.8 83.64 L438.3 85.91 L438.8 88.05 L439.3 90.01 L439.8 91.76 L440.3 93.26 L440.8 94.49 L441.3 95.42 L441.8 96.03 L442.3 96.31 L442.8 96.25 L443.3 95.86 L443.8 95.15 L444.3 94.13 L444.8 92.82 L445.3 91.24 L445.8 89.42 L446.3 87.4 L446.8 85.2 L447.3 82.88 L447.8 80.45 L448.3 77.96 L448.8 75.44 L449.3 72.94 L449.8 70.47 L450.3 67.44 L450.8 63.02 L451.3 58.08 L451.8 53.46 L452.3 49.71 L452.8 47.02 L453.3 45.29 L453.8 44.31 L454.3 43.82 L454.8 43.61 L455.3 43.54 L455.8 43.54 L456.3 43.56 L456.8 43.59 L457.3 43.6 L457.8 43.61 L458.3 43.61 L458.8 43.6 L459.3 43.58 L459.8 43.55 L460.3 43.53 L460.8 43.51 L461.3 43.49 L461.8 43.47 L462.3 43.46 L462.8 43.44 L463.3 43.43 L463.8 43.44 L464.3 43.45 L464.8 43.48 L465.3 43.53 L465.8 43.6 L466.3 43.67 L466.8 43.75 L467.3 43.84 L467.8 43.95 L468.3 44.07 L468.8 44.2 L469.3 44.33 L469.8 44.46 L470.3 44.59 L470.8 44.71 L471.3 44.81 L471.8 44.89 L472.3 44.94 L472.8 44.98 L473.3 44.99 L473.8 44.97 L474.3 44.92 L474.8 44.85 L475.3 44.76 L475.8 44.66 L476.3 44.54 L476.8 44.42 L477.3 44.29 L477.8 44.17 L478.3 44.06 L478.8 43.96 L479.3 43.88 L479.8 43.83 L480.3 43.79 L480.8 43.79 L481.3 43.81 L481.8 43.85 L482.3 43.92 L482.8 44.01 L483.3 44.11 L483.8 44.23 L484.3 44.36 L484.8 44.48 L485.3 44.6 L485.8 44.71 L486.3 44.8 L486.8 44.87 L487.3 44.93 L487.8 44.96 L488.3 44.96 L488.8 44.93 L489.3 44.89 L489.8 44.81 L490.3 44.72 L490.8 44.61 L491.3 44.49 L491.8 44.36 L492.3 44.23 L492.8 44.11 L493.3 43.99 L493.8 43.89 L494.3 43.81 L494.8 43.74 L495.3 43.71 L495.8 43.7 L496.3 43.71 L496.8 43.75 L497.3 43.82 L497.8 43.9 L498.3 44 L498.8 44.11 L499.3 44.23 L499.8 44.35 L500.3 44.47 L500.8 44.58 L501.3 44.67 L501.8 44.75 L502.3 44.8 L502.8 44.83 L503.3 44.83 L503.8 44.81 L504.3 44.76 L504.8 44.69 L505.3 44.59 L505.8 44.48 L506.3 44.36 L506.8 44.23 L507.3 44.1 L507.8 43.98 L508.3 43.86 L508.8 43.76 L509.3 43.68 L509.8 43.62 L510.3 43.58 L510.8 43.58 L511.3 43.6 L511.8 43.64 L512.3 43.71" fill="none" stroke="#0000ff" stroke-width="1.05" stroke-linejoin="round" stroke-linecap="round"/>
<path d="M330.8 44.48 L331.3 44.63 L331.8 44.74 L332.3 44.83 L332.8 44.88 L333.3 44.89 L333.8 44.86 L334.3 44.8 L334.8 44.7 L335.3 44.58 L335.8 44.42 L336.3 44.24 L336.8 44.05 L337.3 43.85 L337.8 43.66 L338.3 43.46 L338.8 43.28 L339.3 43.13 L339.8 42.99 L340.3 42.89 L340.8 42.82 L341.3 42.79 L341.8 42.8 L342.3 42.84 L342.8 42.92 L343.3 43.03 L343.8 43.17 L344.3 43.34 L344.8 43.52 L345.3 43.71 L345.8 43.91 L346.3 44.1 L346.8 44.28 L347.3 44.44 L347.8 44.58 L348.3 44.69 L348.8 44.77 L349.3 44.81 L349.8 44.81 L350.3 44.77 L350.8 44.7 L351.3 44.6 L351.8 44.46 L352.3 44.29 L352.8 44.11 L353.3 43.91 L353.8 43.71 L354.3 43.5 L354.8 43.3 L355.3 43.12 L355.8 42.95 L356.3 42.81 L356.8 42.7 L357.3 42.61 L357.8 42.56 L358.3 42.54 L358.8 42.56 L359.3 42.6 L359.8 42.67 L360.3 42.76 L360.8 42.86 L361.3 42.97 L361.8 43.09 L362.3 43.2 L362.8 43.3 L363.3 43.39 L363.8 43.45 L364.3 43.49 L364.8 43.5 L365.3 43.48 L365.8 43.42 L366.3 43.34 L366.8 43.23 L367.3 43.09 L367.8 42.93 L368.3 42.75 L368.8 42.56 L369.3 42.36 L369.8 42.16 L370.3 41.95 L370.8 41.76 L371.3 41.58 L371.8 41.41 L372.3 41.26 L372.8 41.13 L373.3 41.02 L373.8 40.92 L374.3 40.85 L374.8 40.79 L375.3 40.75 L375.8 40.72 L376.3 40.71 L376.8 40.7 L377.3 40.7 L377.8 40.7 L378.3 40.7 L378.8 40.7 L379.3 40.71 L379.8 40.71 L380.3 40.71 L380.8 40.7 L381.3 40.7 L381.8 40.69 L382.3 40.69 L382.8 40.69 L383.3 40.68 L383.8 40.68 L384.3 40.68 L384.8 40.69 L385.3 40.7 L385.8 40.7 L386.3 40.72 L386.8 40.73 L387.3 40.75 L387.8 40.76 L388.3 40.78 L388.8 40.8 L389.3 40.83 L389.8 40.85 L390.3 40.88 L390.8 40.92 L391.3 40.96 L391.8 41.01 L392.3 41.06 L392.8 41.13 L393.3 41.2 L393.8 41.29 L394.3 41.38 L394.8 41.49 L395.3 41.61 L395.8 41.74 L396.3 41.88 L396.8 42.02 L397.3 42.16 L397.8 42.31 L398.3 42.45 L398.8 42.58 L399.3 42.7 L399.8 42.8 L400.3 42.89 L400.8 42.95 L401.3 42.99 L401.8 43.02 L402.3 43.01 L402.8 42.99 L403.3 42.96 L403.8 42.91 L404.3 42.85 L404.8 42.79 L405.3 42.73 L405.8 42.68 L406.3 42.64 L406.8 42.63 L407.3 42.63 L407.8 42.67 L408.3 42.73 L408.8 42.81 L409.3 42.93 L409.8 43.07 L410.3 43.23 L410.8 43.39 L411.3 43.47 L411.8 43.38 L412.3 43.05 L412.8 42.69 L413.3 42.66 L413.8 43.19 L414.3 44.07 L414.8 44.91 L415.3 45.54 L415.8 46 L416.3 46.42 L416.8 46.84 L417.3 47.3 L417.8 47.79 L418.3 48.3 L418.8 48.82 L419.3 49.31 L419.8 49.77 L420.3 49.76 L420.8 50.21 L421.3 50.57 L421.8 50.82 L422.3 50.95 L422.8 51.02 L423.3 51.03 L423.8 51.01 L424.3 50.96 L424.8 50.91 L425.3 50.86 L425.8 50.85 L426.3 50.9 L426.8 51.04 L427.3 51.27 L427.8 51.64 L428.3 52.16 L428.8 52.85 L429.3 53.74 L429.8 54.83 L430.3 56.15 L430.8 57.72 L431.3 59.53 L431.8 61.59 L432.3 63.92 L432.8 66.51 L433.3 69.35 L433.8 72.44 L434.3 75.74 L434.8 79.24 L435.3 82.91 L435.8 86.71 L436.3 90.59 L436.8 94.5 L437.3 98.38 L437.8 102.18 L438.3 105.82 L438.8 109.25 L439.3 112.41 L439.8 115.22 L440.3 117.64 L440.8 119.62 L441.3 121.12 L441.8 122.09 L442.3 122.53 L442.8 122.43 L443.3 121.79 L443.8 120.63 L444.3 118.97 L444.8 116.85 L445.3 114.31 L445.8 111.38 L446.3 108.14 L446.8 104.63 L447.3 100.92 L447.8 97.06 L448.3 93.13 L448.8 89.17 L449.3 85.24 L449.8 81.39 L450.3 76.78 L450.8 70.31 L451.3 63.22 L451.8 56.71 L452.3 51.48 L452.8 47.77 L453.3 45.41 L453.8 44.05 L454.3 43.36 L454.8 43.04 L455.3 42.91 L455.8 42.86 L456.3 42.86 L456.8 42.86 L457.3 42.88 L457.8 42.89 L458.3 42.9 L458.8 42.9 L459.3 42.91 L459.8 42.91 L460.3 42.94 L460.8 42.98 L461.3 43.02 L461.8 43.05 L462.3 43.09 L462.8 43.13 L463.3 43.16 L463.8 43.21 L464.3 43.26 L464.8 43.33 L465.3 43.4 L465.8 43.49 L466.3 43.57 L466.8 43.65 L467.3 43.74 L467.8 43.85 L468.3 43.97 L468.8 44.1 L469.3 44.24 L469.8 44.37 L470.3 44.51 L470.8 44.63 L471.3 44.74 L471.8 44.83 L472.3 44.9 L472.8 44.95 L473.3 44.97 L473.8 44.97 L474.3 44.94 L474.8 44.88 L475.3 44.81 L475.8 44.71 L476.3 44.6 L476.8 44.48 L477.3 44.35 L477.8 44.23 L478.3 44.11 L478.8 44.01 L479.3 43.92 L479.8 43.85 L480.3 43.8 L480.8 43.78 L481.3 43.78 L481.8 43.81 L482.3 43.87 L482.8 43.95 L483.3 44.04 L483.8 44.15 L484.3 44.27 L484.8 44.4 L485.3 44.52 L485.8 44.63 L486.3 44.73 L486.8 44.81 L487.3 44.88 L487.8 44.92 L488.3 44.93 L488.8 44.92 L489.3 44.88 L489.8 44.82 L490.3 44.74 L490.8 44.64 L491.3 44.52 L491.8 44.39 L492.3 44.26 L492.8 44.13 L493.3 44.01 L493.8 43.89 L494.3 43.8 L494.8 43.72 L495.3 43.67 L495.8 43.64 L496.3 43.64 L496.8 43.66 L497.3 43.71 L497.8 43.78 L498.3 43.87 L498.8 43.98 L499.3 44.09 L499.8 44.21 L500.3 44.33 L500.8 44.44 L501.3 44.54 L501.8 44.62 L502.3 44.68 L502.8 44.72 L503.3 44.74 L503.8 44.73 L504.3 44.69 L504.8 44.63 L505.3 44.55 L505.8 44.44 L506.3 44.33 L506.8 44.2 L507.3 44.07 L507.8 43.94 L508.3 43.81 L508.8 43.7 L509.3 43.6 L509.8 43.53 L510.3 43.48 L510.8 43.46 L511.3 43.46 L511.8 43.49 L512.3 43.55" fill="none" stroke="#ff0000" stroke-width="1.05" stroke-linejoin="round" stroke-linecap="round"/>
<path d="M330.8 44.18 L331.3 44.34 L331.8 44.48 L332.3 44.59 L332.8 44.66 L333.3 44.7 L333.8 44.69 L334.3 44.65 L334.8 44.58 L335.3 44.47 L335.8 44.33 L336.3 44.16 L336.8 43.98 L337.3 43.79 L337.8 43.59 L338.3 43.39 L338.8 43.2 L339.3 43.03 L339.8 42.88 L340.3 42.76 L340.8 42.67 L341.3 42.61 L341.8 42.59 L342.3 42.61 L342.8 42.67 L343.3 42.76 L343.8 42.88 L344.3 43.03 L344.8 43.2 L345.3 43.38 L345.8 43.58 L346.3 43.77 L346.8 43.95 L347.3 44.13 L347.8 44.28 L348.3 44.4 L348.8 44.49 L349.3 44.55 L349.8 44.58 L350.3 44.56 L350.8 44.5 L351.3 44.41 L351.8 44.28 L352.3 44.13 L352.8 43.95 L353.3 43.75 L353.8 43.53 L354.3 43.32 L354.8 43.1 L355.3 42.89 L355.8 42.7 L356.3 42.52 L356.8 42.37 L357.3 42.25 L357.8 42.16 L358.3 42.1 L358.8 42.07 L359.3 42.06 L359.8 42.09 L360.3 42.13 L360.8 42.2 L361.3 42.27 L361.8 42.35 L362.3 42.42 L362.8 42.49 L363.3 42.54 L363.8 42.57 L364.3 42.58 L364.8 42.56 L365.3 42.51 L365.8 42.42 L366.3 42.3 L366.8 42.16 L367.3 41.98 L367.8 41.78 L368.3 41.55 L368.8 41.31 L369.3 41.06 L369.8 40.8 L370.3 40.54 L370.8 40.28 L371.3 40.03 L371.8 39.8 L372.3 39.58 L372.8 39.38 L373.3 39.2 L373.8 39.04 L374.3 38.9 L374.8 38.78 L375.3 38.68 L375.8 38.6 L376.3 38.53 L376.8 38.47 L377.3 38.42 L377.8 38.38 L378.3 38.35 L378.8 38.32 L379.3 38.3 L379.8 38.28 L380.3 38.26 L380.8 38.25 L381.3 38.23 L381.8 38.22 L382.3 38.22 L382.8 38.22 L383.3 38.23 L383.8 38.24 L384.3 38.26 L384.8 38.28 L385.3 38.31 L385.8 38.34 L386.3 38.39 L386.8 38.43 L387.3 38.48 L387.8 38.53 L388.3 38.59 L388.8 38.64 L389.3 38.7 L389.8 38.77 L390.3 38.83 L390.8 38.9 L391.3 38.97 L391.8 39.04 L392.3 39.13 L392.8 39.22 L393.3 39.31 L393.8 39.42 L394.3 39.54 L394.8 39.68 L395.3 39.82 L395.8 39.98 L396.3 40.16 L396.8 40.34 L397.3 40.54 L397.8 40.74 L398.3 40.94 L398.8 41.14 L399.3 41.34 L399.8 41.52 L400.3 41.69 L400.8 41.84 L401.3 41.97 L401.8 42.07 L402.3 42.15 L402.8 42.21 L403.3 42.24 L403.8 42.25 L404.3 42.25 L404.8 42.23 L405.3 42.21 L405.8 42.2 L406.3 42.18 L406.8 42.19 L407.3 42.2 L407.8 42.25 L408.3 42.31 L408.8 42.4 L409.3 42.52 L409.8 42.66 L410.3 42.83 L410.8 42.97 L411.3 42.98 L411.8 42.7 L412.3 42.04 L412.8 41.31 L413.3 41.17 L413.8 41.98 L414.3 43.39 L414.8 44.76 L415.3 45.8 L415.8 46.6 L416.3 47.33 L416.8 48.1 L417.3 48.95 L417.8 49.87 L418.3 50.84 L418.8 51.82 L419.3 52.78 L419.8 53.66 L420.3 53.91 L420.8 54.65 L421.3 55.2 L421.8 55.52 L422.3 55.62 L422.8 55.6 L423.3 55.45 L423.8 55.21 L424.3 54.91 L424.8 54.56 L425.3 54.22 L425.8 53.91 L426.3 53.68 L426.8 53.57 L427.3 53.63 L427.8 53.89 L428.3 54.4 L428.8 55.2 L429.3 56.33 L429.8 57.82 L430.3 59.7 L430.8 62 L431.3 64.76 L431.8 67.98 L432.3 71.69 L432.8 75.89 L433.3 80.58 L433.8 85.74 L434.3 91.35 L434.8 97.38 L435.3 103.76 L435.8 110.43 L436.3 117.31 L436.8 124.31 L437.3 131.31 L437.8 138.21 L438.3 144.87 L438.8 151.17 L439.3 156.99 L439.8 162.2 L440.3 166.69 L440.8 170.36 L441.3 173.13 L441.8 174.93 L442.3 175.72 L442.8 175.49 L443.3 174.26 L443.8 172.07 L444.3 168.95 L444.8 164.99 L445.3 160.25 L445.8 154.85 L446.3 148.88 L446.8 142.47 L447.3 135.74 L447.8 128.81 L448.3 121.78 L448.8 114.78 L449.3 107.89 L449.8 101.2 L450.3 93.48 L450.8 83.12 L451.3 72.12 L451.8 62.23 L452.3 54.46 L452.8 49.03 L453.3 45.61 L453.8 43.65 L454.3 42.62 L454.8 42.11 L455.3 41.87 L455.8 41.74 L456.3 41.68 L456.8 41.64 L457.3 41.62 L457.8 41.62 L458.3 41.64 L458.8 41.67 L459.3 41.71 L459.8 41.77 L460.3 41.88 L460.8 42.02 L461.3 42.17 L461.8 42.32 L462.3 42.47 L462.8 42.61 L463.3 42.76 L463.8 42.9 L464.3 43.04 L464.8 43.18 L465.3 43.33 L465.8 43.48 L466.3 43.6 L466.8 43.69 L467.3 43.8 L467.8 43.92 L468.3 44.04 L468.8 44.18 L469.3 44.32 L469.8 44.46 L470.3 44.6 L470.8 44.73 L471.3 44.85 L471.8 44.95 L472.3 45.04 L472.8 45.1 L473.3 45.14 L473.8 45.15 L474.3 45.13 L474.8 45.09 L475.3 45.03 L475.8 44.94 L476.3 44.84 L476.8 44.72 L477.3 44.6 L477.8 44.47 L478.3 44.35 L478.8 44.24 L479.3 44.14 L479.8 44.06 L480.3 44 L480.8 43.96 L481.3 43.95 L481.8 43.97 L482.3 44.01 L482.8 44.07 L483.3 44.16 L483.8 44.26 L484.3 44.38 L484.8 44.5 L485.3 44.62 L485.8 44.73 L486.3 44.83 L486.8 44.92 L487.3 44.99 L487.8 45.04 L488.3 45.07 L488.8 45.07 L489.3 45.04 L489.8 44.99 L490.3 44.91 L490.8 44.82 L491.3 44.7 L491.8 44.58 L492.3 44.44 L492.8 44.31 L493.3 44.17 L493.8 44.05 L494.3 43.94 L494.8 43.85 L495.3 43.77 L495.8 43.73 L496.3 43.71 L496.8 43.71 L497.3 43.74 L497.8 43.8 L498.3 43.87 L498.8 43.96 L499.3 44.07 L499.8 44.18 L500.3 44.29 L500.8 44.41 L501.3 44.51 L501.8 44.6 L502.3 44.67 L502.8 44.72 L503.3 44.74 L503.8 44.74 L504.3 44.72 L504.8 44.67 L505.3 44.59 L505.8 44.49 L506.3 44.38 L506.8 44.25 L507.3 44.12 L507.8 43.98 L508.3 43.85 L508.8 43.73 L509.3 43.61 L509.8 43.52 L510.3 43.46 L510.8 43.42 L511.3 43.41 L511.8 43.43 L512.3 43.47" fill="none" stroke="#000000" stroke-width="1.05" stroke-linejoin="round" stroke-linecap="round"/>
<rect x="327.5" y="15.2" width="185.1" height="184" fill="none" stroke="#4a4a4a" stroke-width="1.1"/>
<line x1="348.07" y1="199.2" x2="348.07" y2="202.7" stroke="#4a4a4a" stroke-width="1"/>
<line x1="348.07" y1="15.2" x2="348.07" y2="18.7" stroke="#4a4a4a" stroke-width="1"/>
<line x1="368.63" y1="199.2" x2="368.63" y2="201.4" stroke="#4a4a4a" stroke-width="1"/>
<line x1="368.63" y1="15.2" x2="368.63" y2="17.4" stroke="#4a4a4a" stroke-width="1"/>
<line x1="389.2" y1="199.2" x2="389.2" y2="202.7" stroke="#4a4a4a" stroke-width="1"/>
<line x1="389.2" y1="15.2" x2="389.2" y2="18.7" stroke="#4a4a4a" stroke-width="1"/>
<line x1="409.77" y1="199.2" x2="409.77" y2="201.4" stroke="#4a4a4a" stroke-width="1"/>
<line x1="409.77" y1="15.2" x2="409.77" y2="17.4" stroke="#4a4a4a" stroke-width="1"/>
<line x1="430.33" y1="199.2" x2="430.33" y2="202.7" stroke="#4a4a4a" stroke-width="1"/>
<line x1="430.33" y1="15.2" x2="430.33" y2="18.7" stroke="#4a4a4a" stroke-width="1"/>
<line x1="450.9" y1="199.2" x2="450.9" y2="201.4" stroke="#4a4a4a" stroke-width="1"/>
<line x1="450.9" y1="15.2" x2="450.9" y2="17.4" stroke="#4a4a4a" stroke-width="1"/>
<line x1="471.47" y1="199.2" x2="471.47" y2="202.7" stroke="#4a4a4a" stroke-width="1"/>
<line x1="471.47" y1="15.2" x2="471.47" y2="18.7" stroke="#4a4a4a" stroke-width="1"/>
<line x1="492.03" y1="199.2" x2="492.03" y2="201.4" stroke="#4a4a4a" stroke-width="1"/>
<line x1="492.03" y1="15.2" x2="492.03" y2="17.4" stroke="#4a4a4a" stroke-width="1"/>
<line x1="512.6" y1="199.2" x2="512.6" y2="202.7" stroke="#4a4a4a" stroke-width="1"/>
<line x1="512.6" y1="15.2" x2="512.6" y2="18.7" stroke="#4a4a4a" stroke-width="1"/>
<line x1="324" y1="45.7" x2="327.5" y2="45.7" stroke="#4a4a4a" stroke-width="1"/>
<line x1="512.6" y1="45.7" x2="509.1" y2="45.7" stroke="#4a4a4a" stroke-width="1"/>
<line x1="325.3" y1="76.38" x2="327.5" y2="76.38" stroke="#4a4a4a" stroke-width="1"/>
<line x1="512.6" y1="76.38" x2="510.4" y2="76.38" stroke="#4a4a4a" stroke-width="1"/>
<line x1="324" y1="107.05" x2="327.5" y2="107.05" stroke="#4a4a4a" stroke-width="1"/>
<line x1="512.6" y1="107.05" x2="509.1" y2="107.05" stroke="#4a4a4a" stroke-width="1"/>
<line x1="325.3" y1="137.72" x2="327.5" y2="137.72" stroke="#4a4a4a" stroke-width="1"/>
<line x1="512.6" y1="137.72" x2="510.4" y2="137.72" stroke="#4a4a4a" stroke-width="1"/>
<line x1="324" y1="168.4" x2="327.5" y2="168.4" stroke="#4a4a4a" stroke-width="1"/>
<line x1="512.6" y1="168.4" x2="509.1" y2="168.4" stroke="#4a4a4a" stroke-width="1"/>
<text x="291.19" y="50.4" font-size="15.5" fill="#111">0.00</text>
<text x="285.91" y="111.7" font-size="15.5" fill="#111">-0.05</text>
<text x="286.11" y="172.9" font-size="15.5" fill="#111">-0.10</text>
<text x="335.26" y="216.6" font-size="15.5" fill="#111">400</text>
<text x="376.26" y="216.6" font-size="15.5" fill="#111">500</text>
<text x="417.31" y="216.6" font-size="15.5" fill="#111">600</text>
<text x="458.44" y="216.6" font-size="15.5" fill="#111">700</text>
<text x="499.64" y="216.6" font-size="15.5" fill="#111">800</text>
<text x="385.83" y="235" font-size="15.45" fill="#111">Wavelength / nm</text>
<text x="494.42" y="37.5" font-size="23" fill="#111">b</text>
<text transform="translate(280.2 130.7) rotate(-90)" font-size="15.4" fill="#111">&#916; O.D.</text>
<line x1="380.8" y1="19" x2="380.8" y2="30.3" stroke="#111" stroke-width="0.9"/>
<path d="M379.2 29.8 L382.4 29.8 L380.8 34.3 Z" fill="#111"/>
<line x1="459.3" y1="24.4" x2="459.3" y2="34.4" stroke="#111" stroke-width="0.9"/>
<path d="M457.7 33.9 L460.9 33.9 L459.3 38.4 Z" fill="#111"/>
<text x="458.69" y="107" font-size="13.9" fill="#111">630 µs</text>
<text x="458.84" y="123.6" font-size="13.9" fill="#111">585 µs</text>
<text x="458.13" y="141.5" font-size="13.9" fill="#111">......</text>
<text x="459.08" y="157.9" font-size="13.9" fill="#111">45 µs</text>
<text x="458.86" y="175.3" font-size="13.9" fill="#111">0 µs</text>
<line x1="453.2" y1="176.4" x2="453.2" y2="146.3" stroke="#a0a0a0" stroke-width="1.3"/>
<path d="M452 146.8 L454.4 146.8 L453.2 142.8 Z" fill="#222"/>
<rect x="341.2" y="95.4" width="76.5" height="75.7" fill="#fff" stroke="none"/>
<rect x="341.4" y="100.6" width="5.6" height="3.8" fill="#111"/>
<line x1="341.5" y1="100.39" x2="341.5" y2="104.35" stroke="#000" stroke-width="0.6"/>
<line x1="341.92" y1="100.78" x2="341.92" y2="104.43" stroke="#000" stroke-width="0.6"/>
<line x1="342.34" y1="100.64" x2="342.34" y2="104.13" stroke="#000" stroke-width="0.6"/>
<line x1="342.76" y1="100.07" x2="342.76" y2="103.99" stroke="#000" stroke-width="0.6"/>
<line x1="343.18" y1="100.04" x2="343.18" y2="104.07" stroke="#000" stroke-width="0.6"/>
<line x1="343.6" y1="100.08" x2="343.6" y2="104.41" stroke="#000" stroke-width="0.6"/>
<line x1="344.02" y1="100.51" x2="344.02" y2="103.67" stroke="#000" stroke-width="0.6"/>
<line x1="344.44" y1="100.15" x2="344.44" y2="104.28" stroke="#000" stroke-width="0.6"/>
<line x1="344.86" y1="100.75" x2="344.86" y2="103.55" stroke="#000" stroke-width="0.6"/>
<line x1="345.28" y1="100.69" x2="345.28" y2="104.1" stroke="#000" stroke-width="0.6"/>
<line x1="345.7" y1="101.17" x2="345.7" y2="104.45" stroke="#000" stroke-width="0.6"/>
<line x1="346.12" y1="101.03" x2="346.12" y2="104.21" stroke="#000" stroke-width="0.6"/>
<line x1="346.54" y1="100.17" x2="346.54" y2="104.38" stroke="#000" stroke-width="0.6"/>
<line x1="346.96" y1="100.37" x2="346.96" y2="103.68" stroke="#000" stroke-width="0.6"/>
<line x1="347.1" y1="101.5" x2="347.1" y2="168.2" stroke="#111" stroke-width="1"/>
<path d="M347.4 155.16 L347.75 154.39 L348.1 153.13 L348.45 151.4 L348.8 150.4 L349.15 148.38 L349.5 147.15 L349.85 146.21 L350.2 145.84 L350.55 144.31 L350.9 143.03 L351.25 142.43 L351.6 141.17 L351.95 139.9 L352.3 139.78 L352.65 138.67 L353 136.94 L353.35 136.63 L353.7 135.66 L354.05 135.44 L354.4 134.35 L354.75 132.73 L355.1 133.22 L355.45 130.85 L355.8 130.66 L356.15 130.58 L356.5 128.71 L356.85 128.67 L357.2 127.12 L357.55 127.7 L357.9 127.25 L358.25 126.26 L358.6 126.26 L358.95 124.54 L359.3 124.74 L359.65 123.98 L360 123.41 L360.35 122.63 L360.7 122.92 L361.05 122.64 L361.4 121.17 L361.75 121.1 L362.1 119.34 L362.45 120.27 L362.8 119.72 L363.15 120.05 L363.5 119.27 L363.85 117.68 L364.2 117.5 L364.55 117.75 L364.9 115.93 L365.25 116.55 L365.6 115.53 L365.95 115.06 L366.3 114.59 L366.65 115.91 L367 114.09 L367.35 114.06 L367.7 114.09 L368.05 114.95 L368.4 112.77 L368.75 113.37 L369.1 113.34 L369.45 113.9 L369.8 113.49 L370.15 113.35 L370.5 111.66 L370.85 111.76 L371.2 111.38 L371.55 112.49 L371.9 112.46 L372.25 110.19 L372.6 110.04 L372.95 109.98 L373.3 109.78 L373.65 110.24 L374 110.33 L374.35 109.29 L374.7 108.42 L375.05 109.35 L375.4 109.04 L375.75 109.41 L376.1 110.3 L376.45 109.44 L376.8 108.81 L377.15 108.94 L377.5 108.96 L377.85 107.09 L378.2 109.32 L378.55 108.85 L378.9 108.99 L379.25 108.66 L379.6 107.38 L379.95 107.27 L380.3 106.3 L380.65 107.72 L381 105.95 L381.35 105.85 L381.7 106.15 L382.05 105.91 L382.4 106.33 L382.75 105.37 L383.1 105.12 L383.45 105.47 L383.8 105.23 L384.15 105.93 L384.5 104.81 L384.85 107.33 L385.2 106.45 L385.55 104.93 L385.9 105.17 L386.25 105.39 L386.6 105.36 L386.95 104.53 L387.3 106.76 L387.65 107.16 L388 105.41 L388.35 105.4 L388.7 104.05 L389.05 104.04 L389.4 104.75 L389.75 104.44 L390.1 106.23 L390.45 103.98 L390.8 103.46 L391.15 106.49 L391.5 105.03 L391.85 103.7 L392.2 104.99 L392.55 103.19 L392.9 104.84 L393.25 106.34 L393.6 105.9 L393.95 105.29 L394.3 103.74 L394.65 104.07 L395 103.33 L395.35 105.4 L395.7 104.53 L396.05 105.36 L396.4 103.73 L396.75 103.31 L397.1 105.38 L397.45 105.97 L397.8 105.47 L398.15 105.28 L398.5 105.29 L398.85 104.98 L399.2 103.07 L399.55 104.11 L399.9 103.48 L400.25 102.24 L400.6 102.2 L400.95 103.11 L401.3 103.01 L401.65 104.61 L402 105.58 L402.35 103.63 L402.7 105.47 L403.05 105.65 L403.4 105.51 L403.75 103.22 L404.1 102.64 L404.45 102.64 L404.8 102.5 L405.15 102.5 L405.5 104.12 L405.85 105.19 L406.2 104.94 L406.55 103.5 L406.9 104.17 L407.25 104.74 L407.6 101.86 L407.95 104.15 L408.3 105.14 L408.65 104.62 L409 104.47 L409.35 103.35 L409.7 102.11 L410.05 104.6 L410.4 102.71 L410.75 104.63 L411.1 105.32 L411.45 102.92 L411.8 102.93 L412.15 105.2 L412.5 104.26 L412.85 101.91 L413.2 101.71 L413.55 101.79 L413.9 104.99 L414.25 104.56 L414.6 101.72 L414.95 104.63 L415.3 105.29 L415.65 103.89 L416 102.54 L416.35 103.4 L416.7 101.56 L417.05 101.03 L417.4 105.23" fill="none" stroke="#000" stroke-width="1.9" stroke-linejoin="round" stroke-linecap="round"/>
<rect x="415.6" y="100.6" width="2.2" height="8.6" fill="#111"/>
<path d="M347.3 156.69 L347.9 154.32 L348.5 152.07 L349.1 149.91 L349.7 147.86 L350.3 145.89 L350.9 144.02 L351.5 142.22 L352.1 140.51 L352.7 138.88 L353.3 137.32 L353.9 135.83 L354.5 134.41 L355.1 133.05 L355.7 131.75 L356.3 130.52 L356.9 129.33 L357.5 128.2 L358.1 127.13 L358.7 126.1 L359.3 125.11 L359.9 124.17 L360.5 123.28 L361.1 122.42 L361.7 121.6 L362.3 120.82 L362.9 120.08 L363.5 119.37 L364.1 118.69 L364.7 118.04 L365.3 117.42 L365.9 116.83 L366.5 116.26 L367.1 115.72 L367.7 115.21 L368.3 114.72 L368.9 114.25 L369.5 113.8 L370.1 113.37 L370.7 112.96 L371.3 112.57 L371.9 112.2 L372.5 111.84 L373.1 111.5 L373.7 111.18 L374.3 110.86 L374.9 110.57 L375.5 110.29 L376.1 110.02 L376.7 109.76 L377.3 109.51 L377.9 109.28 L378.5 109.05 L379.1 108.84 L379.7 108.63 L380.3 108.44 L380.9 108.25 L381.5 108.07 L382.1 107.9 L382.7 107.74 L383.3 107.59 L383.9 107.44 L384.5 107.3 L385.1 107.16 L385.7 107.03 L386.3 106.91 L386.9 106.79 L387.5 106.68 L388.1 106.57 L388.7 106.47 L389.3 106.37 L389.9 106.28 L390.5 106.19 L391.1 106.1 L391.7 106.02 L392.3 105.94 L392.9 105.87 L393.5 105.8 L394.1 105.73 L394.7 105.67 L395.3 105.61 L395.9 105.55 L396.5 105.49 L397.1 105.44 L397.7 105.39 L398.3 105.34 L398.9 105.29 L399.5 105.24 L400.1 105.2 L400.7 105.16 L401.3 105.12 L401.9 105.09 L402.5 105.05 L403.1 105.02 L403.7 104.98 L404.3 104.95 L404.9 104.92 L405.5 104.9 L406.1 104.87 L406.7 104.84 L407.3 104.82 L407.9 104.8 L408.5 104.77 L409.1 104.75 L409.7 104.73 L410.3 104.71 L410.9 104.69 L411.5 104.68 L412.1 104.66 L412.7 104.64 L413.3 104.63 L413.9 104.61 L414.5 104.6 L415.1 104.58 L415.7 104.57 L416.3 104.56 L416.9 104.55 L417.5 104.54" fill="none" stroke="#d80000" stroke-width="1.5" stroke-linejoin="round" stroke-linecap="round"/>
<rect x="341.2" y="95.4" width="76.5" height="75.7" fill="none" stroke="#333" stroke-width="1"/>
<line x1="341.2" y1="171.1" x2="341.2" y2="168.6" stroke="#333" stroke-width="0.8"/>
<line x1="341.2" y1="95.4" x2="341.2" y2="97.9" stroke="#333" stroke-width="0.8"/>
<line x1="355.39" y1="171.1" x2="355.39" y2="169.5" stroke="#333" stroke-width="0.8"/>
<line x1="355.39" y1="95.4" x2="355.39" y2="97" stroke="#333" stroke-width="0.8"/>
<line x1="369.58" y1="171.1" x2="369.58" y2="168.6" stroke="#333" stroke-width="0.8"/>
<line x1="369.58" y1="95.4" x2="369.58" y2="97.9" stroke="#333" stroke-width="0.8"/>
<line x1="383.77" y1="171.1" x2="383.77" y2="169.5" stroke="#333" stroke-width="0.8"/>
<line x1="383.77" y1="95.4" x2="383.77" y2="97" stroke="#333" stroke-width="0.8"/>
<line x1="397.96" y1="171.1" x2="397.96" y2="168.6" stroke="#333" stroke-width="0.8"/>
<line x1="397.96" y1="95.4" x2="397.96" y2="97.9" stroke="#333" stroke-width="0.8"/>
<line x1="412.15" y1="171.1" x2="412.15" y2="169.5" stroke="#333" stroke-width="0.8"/>
<line x1="412.15" y1="95.4" x2="412.15" y2="97" stroke="#333" stroke-width="0.8"/>
<line x1="341.2" y1="102.4" x2="343" y2="102.4" stroke="#333" stroke-width="0.8"/>
<line x1="417.7" y1="102.4" x2="415.9" y2="102.4" stroke="#333" stroke-width="0.8"/>
<line x1="341.2" y1="113.6" x2="343" y2="113.6" stroke="#333" stroke-width="0.8"/>
<line x1="417.7" y1="113.6" x2="415.9" y2="113.6" stroke="#333" stroke-width="0.8"/>
<line x1="341.2" y1="124.9" x2="343" y2="124.9" stroke="#333" stroke-width="0.8"/>
<line x1="417.7" y1="124.9" x2="415.9" y2="124.9" stroke="#333" stroke-width="0.8"/>
<line x1="341.2" y1="136.1" x2="343" y2="136.1" stroke="#333" stroke-width="0.8"/>
<line x1="417.7" y1="136.1" x2="415.9" y2="136.1" stroke="#333" stroke-width="0.8"/>
<line x1="341.2" y1="147.7" x2="343" y2="147.7" stroke="#333" stroke-width="0.8"/>
<line x1="417.7" y1="147.7" x2="415.9" y2="147.7" stroke="#333" stroke-width="0.8"/>
<line x1="341.2" y1="159.2" x2="343" y2="159.2" stroke="#333" stroke-width="0.8"/>
<line x1="417.7" y1="159.2" x2="415.9" y2="159.2" stroke="#333" stroke-width="0.8"/>
<text x="338.73" y="180.8" font-size="8.9" fill="#111">0</text>
<text x="359.52" y="180.8" font-size="8.9" fill="#111">1000</text>
<text x="388.01" y="180.8" font-size="8.9" fill="#111">2000</text>
<text transform="translate(361.19 190.4) scale(1 1.1)" font-size="9.25" fill="#111">Time / µs</text>
<text transform="translate(363.28 136.4) scale(1 1.1)" font-size="8.2" fill="#111">τ</text>
<text transform="translate(369.33 136.9) scale(1 1.12)" font-size="9.6" fill="#111">= 492 µs</text>
<text transform="translate(336.6 146.6) rotate(-90) scale(1 1.2)" font-size="9.0" fill="#111">&#916; O.D.</text>
<path d="M79.6 343.16 L80.2 346.03 L80.8 346.33 L81.4 342.48 L82 345.14 L82.6 348.36 L83.2 344.08 L83.8 341.66 L84.4 341.49 L85 341.21 L85.6 341.66 L86.2 341.36 L86.8 341.59 L87.4 341.33 L88 342.25 L88.6 341.76 L89.2 341.99 L89.8 342.25 L90.4 342.72 L91 342.31 L91.6 342.98 L92.2 342.6 L92.8 342.61 L93.4 342.58 L94 342 L94.6 342.45 L95.2 342.21 L95.8 342.17 L96.4 343.2 L97 342.68 L97.6 343.17 L98.2 343.61 L98.8 343.58 L99.4 343.41 L100 343.62 L100.6 343.66 L101.2 343.91 L101.8 343.17 L102.4 343.67 L103 343.32 L103.6 343.35 L104.2 343.9 L104.8 343.61 L105.4 343.67 L106 343.89 L106.6 344.05 L107.2 343.54 L107.8 343.72 L108.4 343.61 L109 343.61 L109.6 343.81 L110.2 343.55 L110.8 343.64 L111.4 343.58 L112 344.09 L112.6 343.82 L113.2 344.01 L113.8 344.09 L114.4 343.34 L115 343.67 L115.6 344.09 L116.2 343.97 L116.8 343.2 L117.4 343.18 L118 343.54 L118.6 343.13 L119.2 343.31 L119.8 343.13 L120.4 343.79 L121 343.91 L121.6 344.04 L122.2 343.22 L122.8 343.84 L123.4 343.78 L124 343.21 L124.6 344.02 L125.2 344.11 L125.8 343.29 L126.4 344.1 L127 343.49 L127.6 343.59 L128.2 344.14 L128.8 343.97 L129.4 343.23 L130 343.53 L130.6 343.62 L131.2 343.43 L131.8 343.27 L132.4 343.41 L133 343.85 L133.6 343.08 L134.2 343.67 L134.8 343.55 L135.4 343.08 L136 343.43 L136.6 343.75 L137.2 343.63 L137.8 343.14 L138.4 344.15 L139 343.94 L139.6 344.14 L140.2 343.19 L140.8 343.37 L141.4 343.12 L142 343.94 L142.6 343.38 L143.2 343.22 L143.8 343.55 L144.4 344.09 L145 343.99 L145.6 343.37 L146.2 343.25 L146.8 344.1 L147.4 343.72 L148 343.86 L148.6 343.19 L149.2 343.16 L149.8 343.85 L150.4 343.56 L151 343.18 L151.6 344.13 L152.2 343.8 L152.8 343.98 L153.4 343.19 L154 344.04 L154.6 343.18 L155.2 344.05 L155.8 343.61 L156.4 343.48 L157 343.72 L157.6 344.13 L158.2 343.41 L158.8 343.25 L159.4 343.69 L160 343.38 L160.6 343.24 L161.2 343.29 L161.8 343.17 L162.4 343.34 L163 343.46 L163.6 343.46 L164.2 343.96 L164.8 343.44 L165.4 343.68 L166 343.32 L166.6 343.51 L167.2 343.15 L167.8 343.41 L168.4 343.15 L169 343.94 L169.6 343.74 L170.2 343.34 L170.8 343.66 L171.4 344.17 L172 343.26 L172.6 344.04 L173.2 343.62 L173.8 343.69 L174.4 344.06 L175 343.58 L175.6 343.7 L176.2 343.9 L176.8 344.23 L177.4 343.53 L178 344.04 L178.6 343.84 L179.2 343.71 L179.8 343.4 L180.4 343.28 L181 342.9 L181.6 342.92 L182.2 342.8 L182.8 343.48 L183.4 342.86 L184 342.64 L184.6 342.44 L185.2 343.16 L185.8 343.08 L186.4 342.75 L187 342.21 L187.6 342.05 L188.2 341.99 L188.8 341.93 L189.4 341.33 L190 341.38 L190.6 340.92 L191.2 341.67 L191.8 342.19 L192.4 342.22 L193 342.06 L193.6 342.39 L194.2 341.2 L194.8 341.08 L195.4 341.12 L196 341.96 L196.6 342.49 L197.2 342.67 L197.8 341.95 L198.4 341.9 L199 340.96 L199.6 341.45 L200.2 341.47 L200.8 342.02 L201.4 341.75 L202 341.81 L202.6 342.2 L203.2 342.2 L203.8 342.67 L204.4 342.59 L205 342.77 L205.6 342.6 L206.2 342.6 L206.8 342.71 L207.4 342.11 L207.7 342.2" fill="none" stroke="#000" stroke-width="1.1" stroke-linejoin="round" stroke-linecap="round"/>
<path d="M210.7 346.51 L211.3 345.1 L211.9 342.93 L212.5 343.21 L213.1 343.2 L213.7 342.72 L214.3 343.76 L214.9 344 L215.5 343.8 L216.1 343.98 L216.7 344.13 L217.3 343.46 L217.9 343.92 L218.5 343.87 L219.1 344.21 L219.7 344.15 L220.3 344.15 L220.9 343.86 L221.5 344.18 L222.1 343.92 L222.7 343.91 L223.3 343.37 L223.9 343.13 L224.5 343.22 L225.1 343.45 L225.7 343.19 L226.3 344.02 L226.9 343.74 L227.5 343.84 L228.1 343.86 L228.7 343.95 L229.3 343.76 L229.9 343.25 L230.5 344.15 L231.1 344.12 L231.7 343.87 L232.3 343.93 L232.9 344.09 L233.5 343.46 L234.1 344.22 L234.7 343.72 L235.3 343.54 L235.9 343.76 L236.5 344.29 L237.1 343.73 L237.7 344.33 L238.3 344.61 L238.9 344.09 L239.5 343.98 L240.1 344.1 L240.7 344.34 L241.3 344.45 L241.9 344.3 L242.5 344.34 L243.1 343.73 L243.7 343.74 L244.3 343.8 L244.9 344.28 L245.5 343.73 L246.1 343.96 L246.7 343.29 L247.3 343.29 L247.9 343.46 L248.5 343.84 L249.1 343.8 L249.7 343.72 L250.3 343.23 L250.9 343.41 L251.5 343.27 L252.1 343.2 L252.7 342.74 L253.3 343.52 L253.9 342.68 L254.5 343.46 L255.1 343.34 L255.7 342.26 L256.3 342.67 L256.9 342.99 L257.5 343.08 L258.1 342.43 L258.7 342.15 L259.3 342 L259.9 342.72 L260.5 341.82 L261.1 342.15 L261.7 341.58 L262.3 341.91 L262.9 342.3 L263.5 341.31 L264.1 341.98 L264.3 341.6" fill="none" stroke="#000" stroke-width="1.1" stroke-linejoin="round" stroke-linecap="round"/>
<path d="M80.2 352.51 L80.8 344.27 L81.4 348.14 L82 334.72 L82.6 325.83 L83.2 334.88 L83.8 332.5 L84.4 324.74 L85 324.05 L85.6 325.24 L86.2 320.77 L86.8 315.08 L87.4 307.22 L88 301.47 L88.6 296.96 L89.2 293.49 L89.8 291.14 L90.4 288.94 L91 286.5 L91.6 285.12 L92.2 283.56 L92.8 282.37 L93.4 280.68 L94 279.69 L94.6 278.65 L95.2 277.76 L95.8 275.9 L96.4 274.16 L97 272.88 L97.6 271.5 L98.2 270.2 L98.8 269.4 L99.4 269.07 L100 267.85 L100.6 267.55 L101.2 266.32 L101.8 265.95 L102.4 266.46 L103 266.58 L103.6 267.05 L104.2 268.6 L104.8 269.84 L105.4 271.29 L106 272.76 L106.6 274.76 L107.2 277.58 L107.8 280.1 L108.4 283.63 L109 286.87 L109.6 291.06 L110.2 294.34 L110.8 298.02 L111.4 300.97 L112 303.52 L112.6 304.87 L113.2 306.37 L113.8 306.7 L114.4 307.61 L115 307.1 L115.6 306.64 L116.2 306.49 L116.8 306.11 L117.4 305.07 L118 304.8 L118.6 303.38 L119.2 302.27 L119.8 300.86 L120.4 299.69 L121 298.83 L121.6 298 L122.2 297.63 L122.8 296.79 L123.4 296.11 L124 296.1 L124.6 295.67 L125.2 294.83 L125.8 294.21 L126.4 293.85 L127 293.38 L127.6 293.16 L128.2 292.61 L128.8 292.42 L129.4 292.13 L130 292.05 L130.6 291.97 L131.2 291.51 L131.8 290.77 L132.4 290.27 L133 289.85 L133.6 289.25 L134.2 288.74 L134.8 288.1 L135.4 287.81 L136 287.85 L136.6 286.82 L137.2 286.64 L137.8 286.28 L138.4 286 L139 285.21 L139.6 284.97 L140.2 284.67 L140.8 284.49 L141.4 284.24 L142 284.32 L142.6 283.74 L143.2 283.24 L143.8 282.14 L144.4 281.64 L145 281.6 L145.6 281.22 L146.2 280.42 L146.8 280.04 L147.4 279.28 L148 279.21 L148.6 279.23 L149.2 278.84 L149.8 278.62 L150.4 278.45 L151 277.69 L151.6 277.26 L152.2 276.81 L152.8 276.58 L153.4 276.21 L154 276.13 L154.6 275.77 L155.2 275.5 L155.8 274.67 L156.4 273.54 L157 272.69 L157.6 270.34 L158.2 269.37 L158.8 268.91 L159.4 269.31 L160 269.04 L160.6 268.72 L161.2 268.58 L161.8 268.79 L162.4 269.18 L163 269.34 L163.6 268.64 L164.2 268.33 L164.8 268.36 L165.4 268.92 L166 270.11 L166.6 271.32 L167.2 272.91 L167.8 273.61 L168.4 274.71 L169 275.72 L169.6 276.97 L170.2 277.65 L170.8 278.72 L171.4 279.34 L172 280.12 L172.6 281.08 L173.2 282.53 L173.8 283.2 L174.4 283.25 L175 283.39 L175.6 284.02 L176.2 284.26 L176.8 284.2 L177.4 284.21 L178 285.04 L178.6 285.85 L179.2 285.99 L179.8 286.52 L180.4 287.44 L181 288.19 L181.6 289.58 L182.2 290.94 L182.8 293.84 L183.4 297.08 L184 300.57 L184.6 304.22 L185.2 308.8 L185.8 312.73 L186.4 317.49 L187 321.81 L187.6 326.61 L188.2 331.78 L188.8 336.26 L189.4 341.52 L190 346.66 L190.6 352.05 L191.2 357.94 L191.8 364.48 L192.4 371.05 L193 378.98 L193.6 386.42 L194.2 393.79 L194.8 399.27 L195.4 405.4 L196 408.96 L196.6 412.74 L197.2 412.74 L197.8 412.19 L198.4 409.61 L199 405.6 L199.6 401.5 L200.2 397.68 L200.8 393.64 L201.4 390 L202 387.07 L202.6 384.78 L203.2 382.67 L203.8 380.37 L204.4 379.72 L205 379.82 L205.6 382.31 L206.2 385.88 L206.8 389.97 L207.3 393.7" fill="none" stroke="#ff0000" stroke-width="1.5" stroke-linejoin="round" stroke-linecap="round"/>
<path d="M213.3 429.75 L213.9 417.4 L214.5 404.9 L215.1 393.32 L215.7 382.14 L216.3 374.92 L216.9 369.98 L217.5 367.35 L218.1 367.64 L218.7 368.14 L219.3 370.45 L219.9 373.18 L220.5 376.31 L221.1 379.04 L221.7 381.68 L222.3 382.32 L222.9 382.95 L223.5 380.57 L224.1 377 L224.7 373.27 L225.3 369.6 L225.9 365.88 L226.5 361.68 L227.1 359.24 L227.7 356.83 L228.3 355 L228.9 351.13 L229.5 347.87 L230.1 344.38 L230.7 341.59 L231.3 339.74 L231.9 338.42 L232.5 336.78 L233.1 335.51 L233.7 334.82 L234.3 334.03 L234.9 333.59 L235.5 333.07 L236.1 333.67 L236.7 333.85 L237.3 333.58 L237.9 333.58 L238.5 332.72 L239.1 332.65 L239.7 333.05 L240.3 333.71 L240.9 333.15 L241.5 331.75 L242.1 330.96 L242.7 330.53 L243.3 329.65 L243.9 328.66 L244.5 326.89 L245.1 326.18 L245.7 325.11 L246.3 324.41 L246.9 323.62 L247.5 322.99 L248.1 322.34 L248.7 321.87 L249.3 322.07 L249.9 322.53 L250.5 322.21 L251.1 322.61 L251.7 323.32 L252.3 323.29 L252.9 323.49 L253.5 323.91 L254.1 324.78 L254.7 325.13 L255.3 326.18 L255.9 326.81 L256.5 327.58 L257.1 327.72 L257.7 328.17 L258.3 328.74 L258.9 329.6 L259.5 330.38 L260.1 330.83 L260.7 331.31 L261.3 332.36 L261.9 333.43 L262.5 334.12 L263.1 334.77 L263.7 335.53 L264.3 336.12 L264.3 336" fill="none" stroke="#ff0000" stroke-width="1.5" stroke-linejoin="round" stroke-linecap="round"/>
<path d="M79.6 317.66 L80.2 324.31 L80.8 328.31 L81.4 331.83 L82 333.96 L82.6 336.45 L83.2 337.36 L83.8 338.81 L84.4 340.07 L85 341.19 L85.6 342.7 L86.2 341.52 L86.8 338.44 L87.4 333.71 L88 332.44 L88.6 331.03 L89.2 330.93 L89.8 331.6 L90.4 331.61 L91 331.59 L91.6 330.38 L92.2 330.29 L92.8 330.19 L93.4 329.96 L94 329.78 L94.6 328.75 L95.2 328.69 L95.8 328.18 L96.4 327.88 L97 328.23 L97.6 327.93 L98.2 328.31 L98.8 327.87 L99.4 328.09 L100 327.36 L100.6 326.84 L101.2 326.95 L101.8 326.53 L102.4 325.21 L103 325.09 L103.6 324.51 L104.2 323.55 L104.8 323.96 L105.4 324.46 L106 325.23 L106.6 326.2 L107.2 327.43 L107.8 328.42 L108.4 328.97 L109 329.76 L109.6 330.98 L110.2 332.1 L110.8 332.47 L111.4 333.39 L112 333.67 L112.6 333.73 L113.2 333.02 L113.8 332.11 L114.4 331.73 L115 331.59 L115.6 331.32 L116.2 330.83 L116.8 329.43 L117.4 328.6 L118 328.18 L118.6 326.99 L119.2 325.95 L119.8 325.05 L120.4 324.74 L121 323.35 L121.6 322.77 L122.2 321.78 L122.8 321.08 L123.4 320.78 L124 320.21 L124.6 318.94 L125.2 318.27 L125.8 318.59 L126.4 317.96 L127 317.62 L127.6 318.27 L128.2 317.76 L128.8 318.19 L129.4 317.9 L130 318.41 L130.6 318.11 L131.2 317.88 L131.8 317.71 L132.4 318.15 L133 318.19 L133.6 318.4 L134.2 317.62 L134.8 318.06 L135.4 317.79 L136 317.95 L136.6 317.68 L137.2 317.86 L137.8 318.12 L138.4 318.54 L139 317.86 L139.6 318.26 L140.2 318.53 L140.8 318.53 L141.4 317.7 L142 317.5 L142.6 318.09 L143.2 318.05 L143.8 317.66 L144.4 317.33 L145 318.18 L145.6 317.75 L146.2 318.36 L146.8 318.71 L147.4 319.49 L148 319.49 L148.6 320.66 L149.2 320.75 L149.8 321.33 L150.4 322.11 L151 322.48 L151.6 322.27 L152.2 322.67 L152.8 323.19 L153.4 323.66 L154 323.9 L154.6 324 L155.2 324.31 L155.8 324.95 L156.4 325.31 L157 324.74 L157.6 325.42 L158.2 325.81 L158.8 325.39 L159.4 326.34 L160 325.92 L160.6 326.58 L161.2 326.76 L161.8 327.06 L162.4 327 L163 327.33 L163.6 327.86 L164.2 328.11 L164.8 328.71 L165.4 328.91 L166 329.29 L166.6 329.31 L167.2 330.28 L167.8 330.68 L168.4 330.97 L169 331.96 L169.6 332.5 L170.2 332.73 L170.8 332.99 L171.4 333.78 L172 333.27 L172.6 333.12 L173.2 333.22 L173.8 332.6 L174.4 332.46 L175 332.07 L175.6 331.19 L176.2 330.95 L176.8 329.67 L177.4 329.49 L178 328.75 L178.6 328.08 L179.2 327.23 L179.8 327.2 L180.4 326.65 L181 326.84 L181.6 326.34 L182.2 327.21 L182.8 327.92 L183.4 328.62 L184 329.63 L184.6 330.79 L185.2 333.37 L185.8 334.87 L186.4 337.52 L187 339.73 L187.6 341.4 L188.2 344.36 L188.8 346.89 L189.4 348.67 L190 352.28 L190.6 356 L191.2 358.96 L191.8 363.42 L192.4 366.66 L193 370.58 L193.6 373.33 L194.2 377 L194.8 379.9 L195.4 381.78 L196 383.55 L196.6 384.7 L197.2 384.6 L197.8 383.98 L198.4 381.5 L199 378.87 L199.6 376.9 L200.2 373.71 L200.8 370.94 L201.4 367.15 L202 364.48 L202.6 360.65 L203.2 358.59 L203.8 356.24 L204.4 353.57 L205 351.64 L205.6 349.75 L206.2 348.57 L206.8 349.97 L207.4 351.19 L207.7 352.7" fill="none" stroke="#0000ff" stroke-width="1.4" stroke-linejoin="round" stroke-linecap="round"/>
<path d="M210.7 343.94 L211.3 332.92 L211.9 329.64 L212.5 328.17 L213.1 328.29 L213.7 330.29 L214.3 331.64 L214.9 333.36 L215.5 335.79 L216.1 337.02 L216.7 337.73 L217.3 338.91 L217.9 338.66 L218.5 339.74 L219.1 339.48 L219.7 339.83 L220.3 340.14 L220.9 339.78 L221.5 339.85 L222.1 339.53 L222.7 339.25 L223.3 339.28 L223.9 339.38 L224.5 339.79 L225.1 339.6 L225.7 339.66 L226.3 339.98 L226.9 339.28 L227.5 339.34 L228.1 339.71 L228.7 339.12 L229.3 339.08 L229.9 339.38 L230.5 339.16 L231.1 339.44 L231.7 339.37 L232.3 339.74 L232.9 339.79 L233.5 339.49 L234.1 339.91 L234.7 339.76 L235.3 339.44 L235.9 340.14 L236.5 339.51 L237.1 339.4 L237.7 339.34 L238.3 339.52 L238.9 339.27 L239.5 338.74 L240.1 337.94 L240.7 337.67 L241.3 337.6 L241.9 338.33 L242.5 338.42 L243.1 338.32 L243.7 338.28 L244.3 337.8 L244.9 337.94 L245.5 337.46 L246.1 336.72 L246.7 337.01 L247.3 336.39 L247.9 337.08 L248.5 337.21 L249.1 337.23 L249.7 336.88 L250.3 337.33 L250.9 336.45 L251.5 336.74 L252.1 337.08 L252.7 336.53 L253.3 336.75 L253.9 337.29 L254.5 337.37 L255.1 337.64 L255.7 337.85 L256.3 337.33 L256.9 337.51 L257.5 337.55 L258.1 337.38 L258.7 338.19 L259.3 338.13 L259.9 338.12 L260.5 337.52 L261.1 338.33 L261.7 338.33 L262.3 338.17 L262.9 338.51 L263.5 338.34 L264.1 338.22 L264.3 338.5" fill="none" stroke="#0000ff" stroke-width="1.4" stroke-linejoin="round" stroke-linecap="round"/>
<path d="M79.6 336.76 L80.2 328.98 L80.8 341.72 L81.4 335.15 L82 336.26 L82.6 339.97 L83.2 339.16 L83.8 338.85 L84.4 339.02 L85 339.63 L85.6 339.56 L86.2 339.77 L86.8 339.61 L87.4 339.46 L88 339.69 L88.6 339.88 L89.2 339.43 L89.8 339.83 L90.4 339.29 L91 339.42 L91.6 339.38 L92.2 339.66 L92.8 339.75 L93.4 339.61 L94 339.33 L94.6 339.64 L95.2 339.26 L95.8 339.14 L96.4 339.47 L97 339.23 L97.6 339.2 L98.2 339.11 L98.8 339.23 L99.4 338.85 L100 339 L100.6 338.86 L101.2 338.9 L101.8 338.6 L102.4 338.71 L103 338.56 L103.6 338.35 L104.2 338.24 L104.8 338.43 L105.4 338.05 L106 338.42 L106.6 337.83 L107.2 337.62 L107.8 337.54 L108.4 337.91 L109 337.42 L109.6 337.17 L110.2 336.98 L110.8 336.88 L111.4 337.16 L112 337.01 L112.6 336.94 L113.2 336.86 L113.8 336.34 L114.4 336.55 L115 336.3 L115.6 336.46 L116.2 336.35 L116.8 336.25 L117.4 335.62 L118 335.97 L118.6 335.86 L119.2 335.75 L119.8 335.11 L120.4 335 L121 334.77 L121.6 334.54 L122.2 334.85 L122.8 334.65 L123.4 334.36 L124 334.3 L124.6 334 L125.2 333.66 L125.8 333.53 L126.4 333.5 L127 333.87 L127.6 333.52 L128.2 333.56 L128.8 333.6 L129.4 333.34 L130 333.45 L130.6 333.49 L131.2 333.78 L131.8 333.59 L132.4 333.59 L133 334 L133.6 333.75 L134.2 333.98 L134.8 333.86 L135.4 333.55 L136 333.83 L136.6 333.89 L137.2 334.14 L137.8 333.93 L138.4 334.19 L139 334.14 L139.6 334 L140.2 334.44 L140.8 334.03 L141.4 334.53 L142 334.2 L142.6 334.16 L143.2 334.34 L143.8 334.73 L144.4 334.92 L145 334.39 L145.6 334.75 L146.2 334.81 L146.8 335.07 L147.4 334.79 L148 335.05 L148.6 335.05 L149.2 335.42 L149.8 335.16 L150.4 335.65 L151 335.33 L151.6 335.37 L152.2 335.75 L152.8 335.72 L153.4 335.58 L154 335.98 L154.6 335.74 L155.2 336.25 L155.8 336.29 L156.4 336.43 L157 336.43 L157.6 336.35 L158.2 336.48 L158.8 336.58 L159.4 336.98 L160 336.6 L160.6 337.19 L161.2 336.78 L161.8 336.99 L162.4 337.12 L163 337.59 L163.6 337.45 L164.2 337.47 L164.8 337.86 L165.4 337.56 L166 337.79 L166.6 337.93 L167.2 338.15 L167.8 338.2 L168.4 338.19 L169 338.06 L169.6 338.1 L170.2 338.04 L170.8 338.51 L171.4 338.45 L172 338.55 L172.6 338.26 L173.2 338.48 L173.8 338.74 L174.4 338.69 L175 338.48 L175.6 338.74 L176.2 339.04 L176.8 338.68 L177.4 338.69 L178 338.78 L178.6 339.06 L179.2 339.17 L179.8 338.79 L180.4 338.92 L181 339.13 L181.6 339.33 L182.2 339.61 L182.8 339.54 L183.4 339.86 L184 340.01 L184.6 340.73 L185.2 340.82 L185.8 340.71 L186.4 341.53 L187 341.31 L187.6 341.78 L188.2 342.44 L188.8 342.9 L189.4 343.49 L190 343.94 L190.6 344.47 L191.2 345.63 L191.8 346.21 L192.4 347.17 L193 348.05 L193.6 348.58 L194.2 349.54 L194.8 350.17 L195.4 350.52 L196 350.42 L196.6 350.13 L197.2 349.55 L197.8 348.67 L198.4 348.25 L199 347.44 L199.6 347.01 L200.2 346.48 L200.8 345.57 L201.4 345.25 L202 345.07 L202.6 344.58 L203.2 344.18 L203.8 344.24 L204.4 344.16 L205 343.91 L205.6 343.7 L206.2 343.68 L206.8 343.47 L207.4 343.34 L207.7 343.2" fill="none" stroke="#009b9b" stroke-width="1.4" stroke-linejoin="round" stroke-linecap="round"/>
<path d="M210.7 341.57 L211.3 340.89 L211.9 340.48 L212.5 339.56 L213.1 339.82 L213.7 340.24 L214.3 340.39 L214.9 340.54 L215.5 340.55 L216.1 340.9 L216.7 341.17 L217.3 341.51 L217.9 341.53 L218.5 341.63 L219.1 341.73 L219.7 341.22 L220.3 341.45 L220.9 341.47 L221.5 341.18 L222.1 341.2 L222.7 341.5 L223.3 340.96 L223.9 341.27 L224.5 341.06 L225.1 341.45 L225.7 341.56 L226.3 341.32 L226.9 341.08 L227.5 341.38 L228.1 341.38 L228.7 341.5 L229.3 341.39 L229.9 341.48 L230.5 341.59 L231.1 341.39 L231.7 341.31 L232.3 341.62 L232.9 341.17 L233.5 341.44 L234.1 341.25 L234.7 341.46 L235.3 341.07 L235.9 341.57 L236.5 341.18 L237.1 340.99 L237.7 341.11 L238.3 341.17 L238.9 340.93 L239.5 341.16 L240.1 341.15 L240.7 341.3 L241.3 341.09 L241.9 341.02 L242.5 340.98 L243.1 341.28 L243.7 341.39 L244.3 341.13 L244.9 340.93 L245.5 341.27 L246.1 341.01 L246.7 340.89 L247.3 340.83 L247.9 341.21 L248.5 341.22 L249.1 341.1 L249.7 340.99 L250.3 341.03 L250.9 340.82 L251.5 341.26 L252.1 340.88 L252.7 341.05 L253.3 341.15 L253.9 341.14 L254.5 340.92 L255.1 340.81 L255.7 340.95 L256.3 340.69 L256.9 341.1 L257.5 340.81 L258.1 341.1 L258.7 340.74 L259.3 340.8 L259.9 340.71 L260.5 340.81 L261.1 340.66 L261.7 340.54 L262.3 340.96 L262.9 340.69 L263.5 340.66 L264.1 340.68 L264.3 340.8" fill="none" stroke="#009b9b" stroke-width="1.4" stroke-linejoin="round" stroke-linecap="round"/>

<path d="M206.6 246.6 H79.6 V430.1 H206.6 M211.6 430.1 H264.5 V246.6 H211.6" fill="none" stroke="#454545" stroke-width="1.1"/>
<line x1="204.5" y1="250" x2="208.8" y2="243.4" stroke="#454545" stroke-width="1"/>
<line x1="208.3" y1="250.1" x2="212.5" y2="243.4" stroke="#454545" stroke-width="1"/>
<line x1="204.5" y1="433.5" x2="208.8" y2="426.9" stroke="#454545" stroke-width="1"/>
<line x1="208.3" y1="433.6" x2="212.5" y2="426.9" stroke="#454545" stroke-width="1"/>
<line x1="95.7" y1="430.1" x2="95.7" y2="433.5" stroke="#454545" stroke-width="1"/>
<line x1="95.7" y1="246.6" x2="95.7" y2="249.4" stroke="#454545" stroke-width="1"/>
<line x1="150.5" y1="430.1" x2="150.5" y2="433.5" stroke="#454545" stroke-width="1"/>
<line x1="150.5" y1="246.6" x2="150.5" y2="249.4" stroke="#454545" stroke-width="1"/>
<line x1="205.3" y1="430.1" x2="205.3" y2="433.5" stroke="#454545" stroke-width="1"/>
<line x1="205.3" y1="246.6" x2="205.3" y2="249.4" stroke="#454545" stroke-width="1"/>
<line x1="123.1" y1="430.1" x2="123.1" y2="432.3" stroke="#454545" stroke-width="1"/>
<line x1="123.1" y1="246.6" x2="123.1" y2="248.8" stroke="#454545" stroke-width="1"/>
<line x1="177.9" y1="430.1" x2="177.9" y2="432.3" stroke="#454545" stroke-width="1"/>
<line x1="177.9" y1="246.6" x2="177.9" y2="248.8" stroke="#454545" stroke-width="1"/>
<line x1="230.9" y1="430.1" x2="230.9" y2="433.5" stroke="#454545" stroke-width="1"/>
<line x1="230.9" y1="246.6" x2="230.9" y2="249.4" stroke="#454545" stroke-width="1"/>
<line x1="247.7" y1="430.1" x2="247.7" y2="432.3" stroke="#454545" stroke-width="1"/>
<line x1="247.7" y1="246.6" x2="247.7" y2="248.8" stroke="#454545" stroke-width="1"/>
<line x1="264.5" y1="430.1" x2="264.5" y2="433.5" stroke="#454545" stroke-width="1"/>
<line x1="76.2" y1="255.2" x2="79.6" y2="255.2" stroke="#454545" stroke-width="1"/>
<line x1="76.2" y1="342.7" x2="79.6" y2="342.7" stroke="#454545" stroke-width="1"/>
<line x1="76.2" y1="430.2" x2="79.6" y2="430.2" stroke="#454545" stroke-width="1"/>
<line x1="77.4" y1="298.95" x2="79.6" y2="298.95" stroke="#454545" stroke-width="1"/>
<line x1="77.4" y1="386.45" x2="79.6" y2="386.45" stroke="#454545" stroke-width="1"/>
<line x1="264.5" y1="255.2" x2="260.9" y2="255.2" stroke="#454545" stroke-width="1"/>
<line x1="264.5" y1="298.95" x2="260.9" y2="298.95" stroke="#454545" stroke-width="1"/>
<line x1="264.5" y1="342.7" x2="260.9" y2="342.7" stroke="#454545" stroke-width="1"/>
<line x1="264.5" y1="386.45" x2="260.9" y2="386.45" stroke="#454545" stroke-width="1"/>
<text x="55.93" y="259.6" font-size="15.4" fill="#111">20</text>
<text x="64.9" y="347.5" font-size="15.4" fill="#111">0</text>
<text x="51.32" y="434.7" font-size="15.4" fill="#111">-20</text>
<text x="83.05" y="447.4" font-size="15.4" fill="#111">400</text>
<text x="137.58" y="447.4" font-size="15.4" fill="#111">500</text>
<text x="191.92" y="447.4" font-size="15.4" fill="#111">600750</text>
<text x="250.18" y="447.4" font-size="15.4" fill="#111">900</text>
<text x="119.93" y="466.4" font-size="15.5" fill="#111">Wavelength / nm</text>
<text transform="translate(244.71 272) scale(1.07 1)" font-size="24" fill="#111">c</text>
<text transform="translate(48.0 370.7) rotate(-90)" font-size="15" fill="#111">&#916; mO.D.</text>
<line x1="85" y1="361.3" x2="104.6" y2="361.3" stroke="#000" stroke-width="1.8"/>
<text transform="translate(108.71 364.9) scale(1 1.05)" font-size="15.2" fill="#111">0 ns</text>
<line x1="85" y1="380.3" x2="104.6" y2="380.3" stroke="#ff0000" stroke-width="1.8"/>
<text transform="translate(108.95 383.9) scale(1 1.05)" font-size="15.2" fill="#111">40 ns</text>
<line x1="85" y1="399.3" x2="104.6" y2="399.3" stroke="#0000ff" stroke-width="1.8"/>
<text transform="translate(108.95 402.9) scale(1 1.05)" font-size="15.2" fill="#111">42 ns</text>
<line x1="85" y1="418.3" x2="104.6" y2="418.3" stroke="#009b9b" stroke-width="1.8"/>
<text transform="translate(108.54 421.9) scale(1 1.05)" font-size="15.2" fill="#111">220 ns</text>
<text x="144.81" y="262.9" font-size="15.2" fill="#111">S</text>
<text x="155.35" y="265.4" font-size="7.2" fill="#111">1</text>
<line x1="159.9" y1="261.2" x2="164.6" y2="261.2" stroke="#777" stroke-width="1"/>
<path d="M164 259.6 L167 261.2 L164 262.8 Z" fill="#444"/>
<text x="166.81" y="262.9" font-size="15.2" fill="#111">S</text>
<text transform="translate(176.88 265.9) scale(1 0.85)" font-size="9.3" fill="#111">n</text>
<text x="124.01" y="307.3" font-size="12.9" fill="#111">T</text>
<text x="131.48" y="309.9" font-size="6.8" fill="#111">1</text>
<line x1="136.1" y1="305.7" x2="140.9" y2="305.7" stroke="#777" stroke-width="1"/>
<path d="M140.3 304.1 L143.3 305.7 L140.3 307.3 Z" fill="#444"/>
<text x="143.81" y="307.3" font-size="12.9" fill="#111">T</text>
<text transform="translate(150.62 310.3) scale(1 0.85)" font-size="10.2" fill="#111">n</text>
<text x="198.37" y="310.5" font-size="14.8" fill="#111">T</text>
<text x="207.62" y="313.8" font-size="7.6" fill="#111">1</text>
<line x1="212.6" y1="309" x2="217.1" y2="309" stroke="#777" stroke-width="1"/>
<path d="M216.5 307.4 L219.5 309 L216.5 310.6 Z" fill="#444"/>
<text x="220.47" y="310.5" font-size="14.8" fill="#111">T</text>
<text transform="translate(228.72 313.8) scale(1 0.85)" font-size="10.2" fill="#111">n</text>
<ellipse cx="133.3" cy="319.5" rx="15.9" ry="8.0" fill="none" stroke="#333" stroke-width="1.0"/>
<line x1="163.7" y1="272.5" x2="163.7" y2="279.5" stroke="#999" stroke-width="1"/>
<path d="M162.3 279 L165.1 279 L163.7 283.6 Z" fill="#111"/>
<line x1="212.8" y1="326.5" x2="212.8" y2="320.5" stroke="#999" stroke-width="1"/>
<path d="M211.4 321.4 L214.2 321.4 L212.8 317.6 Z" fill="#111"/>
<line x1="325.8" y1="289.3" x2="510.7" y2="289.3" stroke="#6a6aff" stroke-width="1" stroke-dasharray="1.2 1.8"/>
<line x1="325.8" y1="409.1" x2="510.7" y2="409.1" stroke="#ff7070" stroke-width="1" stroke-dasharray="1.2 1.8"/>
<path d="M326 290.5 C326.88 290.8 329.63 292.13 331.3 292.3 C332.97 292.47 334.23 291.78 336 291.5 C337.77 291.22 340.48 290.6 341.9 290.6 C343.32 290.6 343.73 291.02 344.5 291.5 C345.27 291.98 345.87 292.25 346.5 293.5 C347.13 294.75 347.72 295.92 348.3 299 C348.88 302.08 349.38 305.5 350 312 C350.62 318.5 351.25 328.67 352 338 C352.75 347.33 353.67 359.33 354.5 368 C355.33 376.67 356.25 384.75 357 390 C357.75 395.25 358.17 397.67 359 399.5 C359.83 401.33 360.92 401 362 401 C363.08 401 364.67 401.33 365.5 399.5 C366.33 397.67 366.5 394.92 367 390 C367.5 385.08 368 376.67 368.5 370 C369 363.33 369.42 356.67 370 350 C370.58 343.33 371.42 336.67 372 330 C372.58 323.33 373 315.67 373.5 310 C374 304.33 374.47 299.67 375 296 C375.53 292.33 376.12 290.33 376.7 288 C377.28 285.67 377.87 283.9 378.5 282 C379.13 280.1 379.53 278.55 380.5 276.6 C381.47 274.65 383.22 271.48 384.3 270.3 C385.38 269.12 385.95 269.62 387 269.5 C388.05 269.38 389.37 269.05 390.6 269.6 C391.83 270.15 393.02 271.73 394.4 272.8 C395.78 273.87 397.47 274.83 398.9 276 C400.33 277.17 401.48 279.72 403 279.8 C404.52 279.88 406.23 277.2 408 276.5 C409.77 275.8 411.6 275.18 413.6 275.6 C415.6 276.02 417.65 278.1 420 279 C422.35 279.9 425.53 280.92 427.7 281 C429.87 281.08 431.15 279.87 433 279.5 C434.85 279.13 437.13 278.8 438.8 278.8 C440.47 278.8 441.33 279.32 443 279.5 C444.67 279.68 447.13 279.48 448.8 279.9 C450.47 280.32 451.35 281.33 453 282 C454.65 282.67 456.87 283.9 458.7 283.9 C460.53 283.9 462.15 282.48 464 282 C465.85 281.52 467.8 280.92 469.8 281 C471.8 281.08 473.78 281.95 476 282.5 C478.22 283.05 481.1 283.95 483.1 284.3 C485.1 284.65 486.15 284.6 488 284.6 C489.85 284.6 492.2 284.2 494.2 284.3 C496.2 284.4 498.2 284.95 500 285.2 C501.8 285.45 503.28 285.58 505 285.8 C506.72 286.02 509.42 286.38 510.3 286.5" fill="none" stroke="#000" stroke-width="1.6" stroke-linejoin="round" stroke-linecap="round" stroke-dasharray="4.2 2.6" stroke-linecap="butt"/>
<path d="M326 406 C326.88 406.17 329.63 406.58 331.3 407 C332.97 407.42 334.55 408.08 336 408.5 C337.45 408.92 338.67 409.12 340 409.5 C341.33 409.88 342.8 410.52 344 410.8 C345.2 411.08 346.37 412.17 347.2 411.2 C348.03 410.23 348.37 408.53 349 405 C349.63 401.47 350.33 396.17 351 390 C351.67 383.83 352.33 376.33 353 368 C353.67 359.67 354.32 349.67 355 340 C355.68 330.33 356.22 319.93 357.1 310 C357.98 300.07 359.25 287.23 360.3 280.4 C361.35 273.57 362.53 272.07 363.4 269 C364.27 265.93 364.87 263.58 365.5 262 C366.13 260.42 366.7 258.33 367.2 259.5 C367.7 260.67 368.08 265.32 368.5 269 C368.92 272.68 369.28 275.6 369.7 281.6 C370.12 287.6 370.53 296.27 371 305 C371.47 313.73 371.9 327.72 372.5 334 C373.1 340.28 373.9 340.37 374.6 342.7 C375.3 345.03 376 345.55 376.7 348 C377.4 350.45 378.1 357.57 378.8 357.4 C379.5 357.23 379.85 349.1 380.9 347 C381.95 344.9 383.52 345.17 385.1 344.8 C386.68 344.43 388.82 344.43 390.4 344.8 C391.98 345.17 393.55 345.97 394.6 347 C395.65 348.03 395.63 349.08 396.7 351 C397.77 352.92 399.58 357.08 401 358.5 C402.42 359.92 403.8 359.68 405.2 359.5 C406.6 359.32 407.82 357.22 409.4 357.4 C410.98 357.58 412.93 359.53 414.7 360.6 C416.47 361.67 418.37 362.32 420 363.8 C421.63 365.28 423.03 367.93 424.5 369.5 C425.97 371.07 427.38 373.2 428.8 373.2 C430.22 373.2 431.33 370.8 433 369.5 C434.67 368.2 437.22 365.98 438.8 365.4 C440.38 364.82 441.2 365.43 442.5 366 C443.8 366.57 445.18 367.63 446.6 368.8 C448.02 369.97 449.35 371.53 451 373 C452.65 374.47 454.5 376.63 456.5 377.6 C458.5 378.57 460.78 378.43 463 378.8 C465.22 379.17 468.13 378.77 469.8 379.8 C471.47 380.83 471.88 383.15 473 385 C474.12 386.85 475.17 390.15 476.5 390.9 C477.83 391.65 479.53 389.98 481 389.5 C482.47 389.02 483.8 388.67 485.3 388 C486.8 387.33 488.55 386.3 490 385.5 C491.45 384.7 492.93 383.67 494 383.2 C495.07 382.73 495.4 382.48 496.4 382.7 C497.4 382.92 498.57 383.7 500 384.5 C501.43 385.3 503.28 386.43 505 387.5 C506.72 388.57 509.42 390.33 510.3 390.9" fill="none" stroke="#000" stroke-width="1.6" stroke-linejoin="round" stroke-linecap="round" stroke-dasharray="4.2 2.6" stroke-linecap="butt"/>
<path d="M325.8 289.4 L334 289.4 L341.9 289.5 L344.5 290.5 L346.3 293 L347.6 298 L349.5 310 L352.4 336 L355 358 L357.5 380 L360 400 L362.6 418.6 L365 399 L367.5 378 L370 358 L371.8 345 L373 330 L374.2 310 L375.3 297 L376.7 286.7 L378.2 279.5 L379.8 275.2 L381.8 272.2 L384.5 270.6 L387.5 269.8 L391 269.5 L395 269.8 L401 271.5 L410 274.3 L420 277.3 L432.2 279.9 L445 282.2 L458.7 283.9 L472 285.1 L485.3 286.1 L498 286.8 L510.5 287.2" fill="none" stroke="#1010ff" stroke-width="1.6" stroke-linejoin="round" stroke-linecap="round"/>
<path d="M325.8 409.1 L334 409.1 L342.9 409.1 L347.8 404.9 L352.4 372.2 L355 345 L357.7 310 L360.1 285 L362.5 259.5 L365 272 L367.5 285 L370 298 L372.3 310 L374 326 L375.6 338.4 L377.2 344.5 L378.8 349 L381 352.5 L384 355.3 L388 357.8 L394.6 360.6 L400 362.3 L410 365.2 L425 369 L440 372.3 L454.3 375.4 L470 378.2 L485 380.4 L497 381.6 L509.7 382.7" fill="none" stroke="#ff1010" stroke-width="1.6" stroke-linejoin="round" stroke-linecap="round"/>
<line x1="375.6" y1="302" x2="385.35" y2="310.9" stroke="#3030ff" stroke-width="0.8"/>
<path d="M388.3 313.6 L384.2 312.16 L386.49 309.65 Z" fill="#3030ff"/>
<line x1="378.8" y1="335.7" x2="386.47" y2="328.03" stroke="#ff2020" stroke-width="0.8"/>
<path d="M389.3 325.2 L387.67 329.23 L385.27 326.83 Z" fill="#ff2020"/>
<rect x="325.8" y="247.2" width="184.9" height="183.2" fill="none" stroke="#7a7a7a" stroke-width="1.8"/>
<line x1="325.8" y1="430.4" x2="325.8" y2="432.6" stroke="#7a7a7a" stroke-width="1"/>
<line x1="362.7" y1="430.4" x2="362.7" y2="433.8" stroke="#7a7a7a" stroke-width="1"/>
<line x1="399.6" y1="430.4" x2="399.6" y2="432.6" stroke="#7a7a7a" stroke-width="1"/>
<line x1="436.5" y1="430.4" x2="436.5" y2="433.8" stroke="#7a7a7a" stroke-width="1"/>
<line x1="473.4" y1="430.4" x2="473.4" y2="432.6" stroke="#7a7a7a" stroke-width="1"/>
<line x1="510.3" y1="430.4" x2="510.3" y2="433.8" stroke="#7a7a7a" stroke-width="1"/>
<line x1="510.7" y1="430.4" x2="510.7" y2="433.8" stroke="#7a7a7a" stroke-width="1"/>
<line x1="322.4" y1="289.4" x2="325.8" y2="289.4" stroke="#7a7a7a" stroke-width="1"/>
<line x1="322.4" y1="345.65" x2="325.8" y2="345.65" stroke="#7a7a7a" stroke-width="1"/>
<line x1="322.4" y1="401.9" x2="325.8" y2="401.9" stroke="#7a7a7a" stroke-width="1"/>
<line x1="323.6" y1="261.27" x2="325.8" y2="261.27" stroke="#7a7a7a" stroke-width="1"/>
<line x1="323.6" y1="317.52" x2="325.8" y2="317.52" stroke="#7a7a7a" stroke-width="1"/>
<line x1="323.6" y1="373.77" x2="325.8" y2="373.77" stroke="#7a7a7a" stroke-width="1"/>
<line x1="510.7" y1="258.08" x2="507.1" y2="258.08" stroke="#7a7a7a" stroke-width="1"/>
<line x1="510.7" y1="333.19" x2="507.1" y2="333.19" stroke="#7a7a7a" stroke-width="1"/>
<line x1="510.7" y1="408.3" x2="507.1" y2="408.3" stroke="#7a7a7a" stroke-width="1"/>
<line x1="510.7" y1="295.63" x2="508.5" y2="295.63" stroke="#7a7a7a" stroke-width="1"/>
<line x1="510.7" y1="370.75" x2="508.5" y2="370.75" stroke="#7a7a7a" stroke-width="1"/>
<text x="311.7" y="293.6" font-size="15.4" fill="#1a1aff">0</text>
<text x="297.92" y="349.9" font-size="15.4" fill="#1a1aff">-10</text>
<text x="297.92" y="406.1" font-size="15.4" fill="#1a1aff">-20</text>
<text x="514.53" y="262" font-size="15.4" fill="#ff1a1a">14</text>
<text x="515.11" y="337.8" font-size="15.4" fill="#ff1a1a">7</text>
<text x="515.3" y="414" font-size="15.4" fill="#ff1a1a">0</text>
<text x="358.42" y="448.5" font-size="15.4" fill="#111">0</text>
<text x="423.37" y="448.5" font-size="15.4" fill="#111">100</text>
<text x="497.37" y="448.5" font-size="15.4" fill="#111">200</text>
<text x="397.25" y="467" font-size="15.8" fill="#111">Time / ns</text>
<text x="494.79" y="427.2" font-size="24" fill="#111">d</text>
<text x="424.62" y="270.5" font-size="12.6" fill="#111">τ</text>
<text x="433.85" y="270.5" font-size="15.4" fill="#111">= 70 ns</text>
<text x="390.82" y="323.6" font-size="12.6" fill="#111">τ</text>
<text x="401.05" y="323.6" font-size="15.4" fill="#111">= 8 ns</text>
<text x="427.82" y="362" font-size="12.6" fill="#111">τ</text>
<text x="437.65" y="362" font-size="15.4" fill="#111">= 500 ns</text>
<text transform="translate(290.6 411.6) rotate(-90)" font-size="15" fill="#1a1aff">&#916; mO.D. at 670 nm</text>
<text transform="translate(533.0 284.8) rotate(90) scale(1 1.12)" font-size="15.3" fill="#ff1a1a"><tspan font-size="13.5">&#916;</tspan> mO.D. at 490 nm</text>
</svg>
</body></html>
